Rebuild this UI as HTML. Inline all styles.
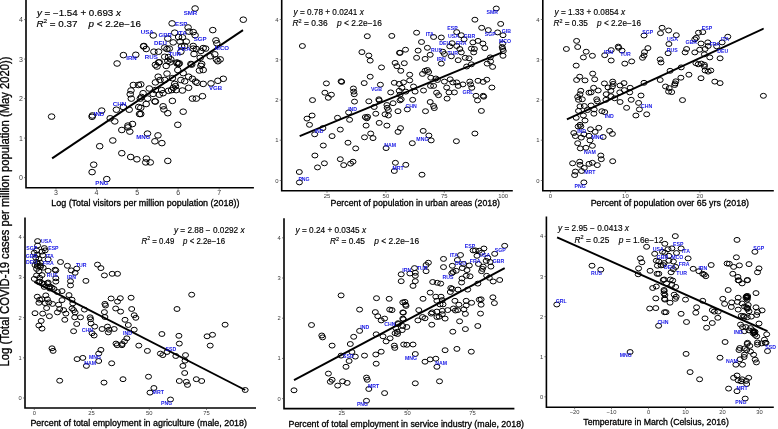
<!DOCTYPE html><html><head><meta charset="utf-8"><style>html,body{margin:0;padding:0;background:#fff;width:778px;height:429px;overflow:hidden}svg{display:block;will-change:transform}text{font-family:"Liberation Sans",sans-serif}</style></head><body>
<svg width="778" height="429" viewBox="0 0 778 429">
<rect width="778" height="429" fill="#fff"/>
<ellipse cx="117.1" cy="63.5" rx="3.3" ry="2.8" fill="none" stroke="#000" stroke-width="1.0"/>
<ellipse cx="123.4" cy="55.1" rx="3.3" ry="2.8" fill="none" stroke="#000" stroke-width="1.0"/>
<ellipse cx="135.8" cy="54.8" rx="3.3" ry="2.8" fill="none" stroke="#000" stroke-width="1.0"/>
<ellipse cx="143.5" cy="46.4" rx="3.3" ry="2.8" fill="none" stroke="#000" stroke-width="1.0"/>
<ellipse cx="153.3" cy="35.4" rx="3.3" ry="2.8" fill="none" stroke="#000" stroke-width="1.0"/>
<ellipse cx="195.1" cy="8.5" rx="3.3" ry="2.8" fill="none" stroke="#000" stroke-width="1.0"/>
<ellipse cx="243.3" cy="19.7" rx="3.3" ry="2.8" fill="none" stroke="#000" stroke-width="1.0"/>
<ellipse cx="172.1" cy="23.4" rx="3.3" ry="2.8" fill="none" stroke="#000" stroke-width="1.0"/>
<ellipse cx="212.8" cy="30.1" rx="3.3" ry="2.8" fill="none" stroke="#000" stroke-width="1.0"/>
<ellipse cx="188.1" cy="27.5" rx="3.3" ry="2.8" fill="none" stroke="#000" stroke-width="1.0"/>
<ellipse cx="189.0" cy="31.6" rx="3.3" ry="2.8" fill="none" stroke="#000" stroke-width="1.0"/>
<ellipse cx="193.2" cy="32.1" rx="3.3" ry="2.8" fill="none" stroke="#000" stroke-width="1.0"/>
<ellipse cx="195.1" cy="35.2" rx="3.3" ry="2.8" fill="none" stroke="#000" stroke-width="1.0"/>
<ellipse cx="174.7" cy="32.7" rx="3.3" ry="2.8" fill="none" stroke="#000" stroke-width="1.0"/>
<ellipse cx="178.6" cy="37.0" rx="3.3" ry="2.8" fill="none" stroke="#000" stroke-width="1.0"/>
<ellipse cx="182.4" cy="37.3" rx="3.3" ry="2.8" fill="none" stroke="#000" stroke-width="1.0"/>
<ellipse cx="167.8" cy="38.6" rx="3.3" ry="2.8" fill="none" stroke="#000" stroke-width="1.0"/>
<ellipse cx="173.2" cy="42.4" rx="3.3" ry="2.8" fill="none" stroke="#000" stroke-width="1.0"/>
<ellipse cx="180.1" cy="41.6" rx="3.3" ry="2.8" fill="none" stroke="#000" stroke-width="1.0"/>
<ellipse cx="186.3" cy="41.6" rx="3.3" ry="2.8" fill="none" stroke="#000" stroke-width="1.0"/>
<ellipse cx="215.9" cy="40.4" rx="3.3" ry="2.8" fill="none" stroke="#000" stroke-width="1.0"/>
<ellipse cx="216.8" cy="43.2" rx="3.3" ry="2.8" fill="none" stroke="#000" stroke-width="1.0"/>
<ellipse cx="143.9" cy="46.0" rx="3.3" ry="2.8" fill="none" stroke="#000" stroke-width="1.0"/>
<ellipse cx="146.2" cy="49.0" rx="3.3" ry="2.8" fill="none" stroke="#000" stroke-width="1.0"/>
<ellipse cx="153.9" cy="51.7" rx="3.3" ry="2.8" fill="none" stroke="#000" stroke-width="1.0"/>
<ellipse cx="158.5" cy="51.7" rx="3.3" ry="2.8" fill="none" stroke="#000" stroke-width="1.0"/>
<ellipse cx="164.7" cy="47.5" rx="3.3" ry="2.8" fill="none" stroke="#000" stroke-width="1.0"/>
<ellipse cx="167.0" cy="49.0" rx="3.3" ry="2.8" fill="none" stroke="#000" stroke-width="1.0"/>
<ellipse cx="169.3" cy="48.6" rx="3.3" ry="2.8" fill="none" stroke="#000" stroke-width="1.0"/>
<ellipse cx="181.6" cy="46.3" rx="3.3" ry="2.8" fill="none" stroke="#000" stroke-width="1.0"/>
<ellipse cx="184.7" cy="46.0" rx="3.3" ry="2.8" fill="none" stroke="#000" stroke-width="1.0"/>
<ellipse cx="193.2" cy="46.0" rx="3.3" ry="2.8" fill="none" stroke="#000" stroke-width="1.0"/>
<ellipse cx="193.2" cy="48.6" rx="3.3" ry="2.8" fill="none" stroke="#000" stroke-width="1.0"/>
<ellipse cx="196.3" cy="49.0" rx="3.3" ry="2.8" fill="none" stroke="#000" stroke-width="1.0"/>
<ellipse cx="203.2" cy="48.1" rx="3.3" ry="2.8" fill="none" stroke="#000" stroke-width="1.0"/>
<ellipse cx="205.6" cy="48.6" rx="3.3" ry="2.8" fill="none" stroke="#000" stroke-width="1.0"/>
<ellipse cx="180.9" cy="51.7" rx="3.3" ry="2.8" fill="none" stroke="#000" stroke-width="1.0"/>
<ellipse cx="194.0" cy="54.0" rx="3.3" ry="2.8" fill="none" stroke="#000" stroke-width="1.0"/>
<ellipse cx="200.9" cy="50.9" rx="3.3" ry="2.8" fill="none" stroke="#000" stroke-width="1.0"/>
<ellipse cx="164.7" cy="56.8" rx="3.3" ry="2.8" fill="none" stroke="#000" stroke-width="1.0"/>
<ellipse cx="168.5" cy="57.1" rx="3.3" ry="2.8" fill="none" stroke="#000" stroke-width="1.0"/>
<ellipse cx="167.8" cy="60.9" rx="3.3" ry="2.8" fill="none" stroke="#000" stroke-width="1.0"/>
<ellipse cx="170.8" cy="59.4" rx="3.3" ry="2.8" fill="none" stroke="#000" stroke-width="1.0"/>
<ellipse cx="158.5" cy="62.5" rx="3.3" ry="2.8" fill="none" stroke="#000" stroke-width="1.0"/>
<ellipse cx="155.4" cy="64.8" rx="3.3" ry="2.8" fill="none" stroke="#000" stroke-width="1.0"/>
<ellipse cx="177.0" cy="62.5" rx="3.3" ry="2.8" fill="none" stroke="#000" stroke-width="1.0"/>
<ellipse cx="178.6" cy="64.0" rx="3.3" ry="2.8" fill="none" stroke="#000" stroke-width="1.0"/>
<ellipse cx="190.9" cy="64.0" rx="3.3" ry="2.8" fill="none" stroke="#000" stroke-width="1.0"/>
<ellipse cx="201.7" cy="64.0" rx="3.3" ry="2.8" fill="none" stroke="#000" stroke-width="1.0"/>
<ellipse cx="210.2" cy="56.3" rx="3.3" ry="2.8" fill="none" stroke="#000" stroke-width="1.0"/>
<ellipse cx="214.8" cy="54.3" rx="3.3" ry="2.8" fill="none" stroke="#000" stroke-width="1.0"/>
<ellipse cx="216.4" cy="59.4" rx="3.3" ry="2.8" fill="none" stroke="#000" stroke-width="1.0"/>
<ellipse cx="220.2" cy="59.4" rx="3.3" ry="2.8" fill="none" stroke="#000" stroke-width="1.0"/>
<ellipse cx="200.2" cy="57.8" rx="3.3" ry="2.8" fill="none" stroke="#000" stroke-width="1.0"/>
<ellipse cx="157.0" cy="66.5" rx="3.3" ry="2.8" fill="none" stroke="#000" stroke-width="1.0"/>
<ellipse cx="159.3" cy="62.3" rx="3.3" ry="2.8" fill="none" stroke="#000" stroke-width="1.0"/>
<ellipse cx="166.2" cy="65.9" rx="3.3" ry="2.8" fill="none" stroke="#000" stroke-width="1.0"/>
<ellipse cx="170.1" cy="62.3" rx="3.3" ry="2.8" fill="none" stroke="#000" stroke-width="1.0"/>
<ellipse cx="177.0" cy="63.4" rx="3.3" ry="2.8" fill="none" stroke="#000" stroke-width="1.0"/>
<ellipse cx="179.3" cy="63.4" rx="3.3" ry="2.8" fill="none" stroke="#000" stroke-width="1.0"/>
<ellipse cx="177.8" cy="70.0" rx="3.3" ry="2.8" fill="none" stroke="#000" stroke-width="1.0"/>
<ellipse cx="191.7" cy="64.6" rx="3.3" ry="2.8" fill="none" stroke="#000" stroke-width="1.0"/>
<ellipse cx="200.9" cy="65.9" rx="3.3" ry="2.8" fill="none" stroke="#000" stroke-width="1.0"/>
<ellipse cx="199.4" cy="70.5" rx="3.3" ry="2.8" fill="none" stroke="#000" stroke-width="1.0"/>
<ellipse cx="203.2" cy="70.0" rx="3.3" ry="2.8" fill="none" stroke="#000" stroke-width="1.0"/>
<ellipse cx="217.9" cy="61.2" rx="3.3" ry="2.8" fill="none" stroke="#000" stroke-width="1.0"/>
<ellipse cx="167.0" cy="73.6" rx="3.3" ry="2.8" fill="none" stroke="#000" stroke-width="1.0"/>
<ellipse cx="158.2" cy="76.7" rx="3.3" ry="2.8" fill="none" stroke="#000" stroke-width="1.0"/>
<ellipse cx="155.4" cy="82.4" rx="3.3" ry="2.8" fill="none" stroke="#000" stroke-width="1.0"/>
<ellipse cx="160.0" cy="80.0" rx="3.3" ry="2.8" fill="none" stroke="#000" stroke-width="1.0"/>
<ellipse cx="164.7" cy="80.0" rx="3.3" ry="2.8" fill="none" stroke="#000" stroke-width="1.0"/>
<ellipse cx="172.4" cy="78.2" rx="3.3" ry="2.8" fill="none" stroke="#000" stroke-width="1.0"/>
<ellipse cx="183.2" cy="73.1" rx="3.3" ry="2.8" fill="none" stroke="#000" stroke-width="1.0"/>
<ellipse cx="188.6" cy="76.7" rx="3.3" ry="2.8" fill="none" stroke="#000" stroke-width="1.0"/>
<ellipse cx="180.9" cy="80.0" rx="3.3" ry="2.8" fill="none" stroke="#000" stroke-width="1.0"/>
<ellipse cx="184.7" cy="81.3" rx="3.3" ry="2.8" fill="none" stroke="#000" stroke-width="1.0"/>
<ellipse cx="192.4" cy="78.8" rx="3.3" ry="2.8" fill="none" stroke="#000" stroke-width="1.0"/>
<ellipse cx="195.5" cy="81.6" rx="3.3" ry="2.8" fill="none" stroke="#000" stroke-width="1.0"/>
<ellipse cx="197.1" cy="82.8" rx="3.3" ry="2.8" fill="none" stroke="#000" stroke-width="1.0"/>
<ellipse cx="203.2" cy="83.9" rx="3.3" ry="2.8" fill="none" stroke="#000" stroke-width="1.0"/>
<ellipse cx="211.0" cy="83.4" rx="3.3" ry="2.8" fill="none" stroke="#000" stroke-width="1.0"/>
<ellipse cx="217.9" cy="80.8" rx="3.3" ry="2.8" fill="none" stroke="#000" stroke-width="1.0"/>
<ellipse cx="223.3" cy="78.8" rx="3.3" ry="2.8" fill="none" stroke="#000" stroke-width="1.0"/>
<ellipse cx="174.7" cy="83.9" rx="3.3" ry="2.8" fill="none" stroke="#000" stroke-width="1.0"/>
<ellipse cx="175.5" cy="86.2" rx="3.3" ry="2.8" fill="none" stroke="#000" stroke-width="1.0"/>
<ellipse cx="173.2" cy="87.8" rx="3.3" ry="2.8" fill="none" stroke="#000" stroke-width="1.0"/>
<ellipse cx="140.8" cy="84.4" rx="3.3" ry="2.8" fill="none" stroke="#000" stroke-width="1.0"/>
<ellipse cx="149.3" cy="88.5" rx="3.3" ry="2.8" fill="none" stroke="#000" stroke-width="1.0"/>
<ellipse cx="155.4" cy="90.1" rx="3.3" ry="2.8" fill="none" stroke="#000" stroke-width="1.0"/>
<ellipse cx="161.6" cy="90.1" rx="3.3" ry="2.8" fill="none" stroke="#000" stroke-width="1.0"/>
<ellipse cx="168.5" cy="90.8" rx="3.3" ry="2.8" fill="none" stroke="#000" stroke-width="1.0"/>
<ellipse cx="171.6" cy="90.1" rx="3.3" ry="2.8" fill="none" stroke="#000" stroke-width="1.0"/>
<ellipse cx="176.2" cy="90.1" rx="3.3" ry="2.8" fill="none" stroke="#000" stroke-width="1.0"/>
<ellipse cx="182.4" cy="90.5" rx="3.3" ry="2.8" fill="none" stroke="#000" stroke-width="1.0"/>
<ellipse cx="188.6" cy="87.8" rx="3.3" ry="2.8" fill="none" stroke="#000" stroke-width="1.0"/>
<ellipse cx="143.1" cy="93.2" rx="3.3" ry="2.8" fill="none" stroke="#000" stroke-width="1.0"/>
<ellipse cx="153.1" cy="93.9" rx="3.3" ry="2.8" fill="none" stroke="#000" stroke-width="1.0"/>
<ellipse cx="159.3" cy="94.7" rx="3.3" ry="2.8" fill="none" stroke="#000" stroke-width="1.0"/>
<ellipse cx="163.1" cy="93.2" rx="3.3" ry="2.8" fill="none" stroke="#000" stroke-width="1.0"/>
<ellipse cx="141.5" cy="97.0" rx="3.3" ry="2.8" fill="none" stroke="#000" stroke-width="1.0"/>
<ellipse cx="147.7" cy="98.6" rx="3.3" ry="2.8" fill="none" stroke="#000" stroke-width="1.0"/>
<ellipse cx="146.2" cy="104.0" rx="3.3" ry="2.8" fill="none" stroke="#000" stroke-width="1.0"/>
<ellipse cx="155.4" cy="101.6" rx="3.3" ry="2.8" fill="none" stroke="#000" stroke-width="1.0"/>
<ellipse cx="172.4" cy="100.9" rx="3.3" ry="2.8" fill="none" stroke="#000" stroke-width="1.0"/>
<ellipse cx="192.4" cy="98.6" rx="3.3" ry="2.8" fill="none" stroke="#000" stroke-width="1.0"/>
<ellipse cx="196.3" cy="98.6" rx="3.3" ry="2.8" fill="none" stroke="#000" stroke-width="1.0"/>
<ellipse cx="202.5" cy="96.2" rx="3.3" ry="2.8" fill="none" stroke="#000" stroke-width="1.0"/>
<ellipse cx="140.8" cy="107.8" rx="3.3" ry="2.8" fill="none" stroke="#000" stroke-width="1.0"/>
<ellipse cx="163.1" cy="106.3" rx="3.3" ry="2.8" fill="none" stroke="#000" stroke-width="1.0"/>
<ellipse cx="163.9" cy="109.4" rx="3.3" ry="2.8" fill="none" stroke="#000" stroke-width="1.0"/>
<ellipse cx="167.8" cy="113.2" rx="3.3" ry="2.8" fill="none" stroke="#000" stroke-width="1.0"/>
<ellipse cx="183.2" cy="111.7" rx="3.3" ry="2.8" fill="none" stroke="#000" stroke-width="1.0"/>
<ellipse cx="140.8" cy="114.0" rx="3.3" ry="2.8" fill="none" stroke="#000" stroke-width="1.0"/>
<ellipse cx="177.8" cy="124.8" rx="3.3" ry="2.8" fill="none" stroke="#000" stroke-width="1.0"/>
<ellipse cx="133.3" cy="85.0" rx="3.3" ry="2.8" fill="none" stroke="#000" stroke-width="1.0"/>
<ellipse cx="138.4" cy="85.0" rx="3.3" ry="2.8" fill="none" stroke="#000" stroke-width="1.0"/>
<ellipse cx="131.0" cy="90.5" rx="3.3" ry="2.8" fill="none" stroke="#000" stroke-width="1.0"/>
<ellipse cx="130.2" cy="94.2" rx="3.3" ry="2.8" fill="none" stroke="#000" stroke-width="1.0"/>
<ellipse cx="131.3" cy="98.6" rx="3.3" ry="2.8" fill="none" stroke="#000" stroke-width="1.0"/>
<ellipse cx="140.3" cy="98.6" rx="3.3" ry="2.8" fill="none" stroke="#000" stroke-width="1.0"/>
<ellipse cx="154.9" cy="101.3" rx="3.3" ry="2.8" fill="none" stroke="#000" stroke-width="1.0"/>
<ellipse cx="138.7" cy="107.0" rx="3.3" ry="2.8" fill="none" stroke="#000" stroke-width="1.0"/>
<ellipse cx="139.5" cy="114.0" rx="3.3" ry="2.8" fill="none" stroke="#000" stroke-width="1.0"/>
<ellipse cx="129.2" cy="109.7" rx="3.3" ry="2.8" fill="none" stroke="#000" stroke-width="1.0"/>
<ellipse cx="116.4" cy="109.7" rx="3.3" ry="2.8" fill="none" stroke="#000" stroke-width="1.0"/>
<ellipse cx="123.3" cy="107.0" rx="3.3" ry="2.8" fill="none" stroke="#000" stroke-width="1.0"/>
<ellipse cx="101.7" cy="110.6" rx="3.3" ry="2.8" fill="none" stroke="#000" stroke-width="1.0"/>
<ellipse cx="92.4" cy="115.5" rx="3.3" ry="2.8" fill="none" stroke="#000" stroke-width="1.0"/>
<ellipse cx="92.1" cy="116.8" rx="3.3" ry="2.8" fill="none" stroke="#000" stroke-width="1.0"/>
<ellipse cx="51.6" cy="116.6" rx="3.3" ry="2.8" fill="none" stroke="#000" stroke-width="1.0"/>
<ellipse cx="110.2" cy="118.3" rx="3.3" ry="2.8" fill="none" stroke="#000" stroke-width="1.0"/>
<ellipse cx="114.8" cy="121.4" rx="3.3" ry="2.8" fill="none" stroke="#000" stroke-width="1.0"/>
<ellipse cx="132.5" cy="124.0" rx="3.3" ry="2.8" fill="none" stroke="#000" stroke-width="1.0"/>
<ellipse cx="127.9" cy="125.6" rx="3.3" ry="2.8" fill="none" stroke="#000" stroke-width="1.0"/>
<ellipse cx="121.8" cy="130.0" rx="3.3" ry="2.8" fill="none" stroke="#000" stroke-width="1.0"/>
<ellipse cx="127.9" cy="127.4" rx="3.3" ry="2.8" fill="none" stroke="#000" stroke-width="1.0"/>
<ellipse cx="129.8" cy="131.6" rx="3.3" ry="2.8" fill="none" stroke="#000" stroke-width="1.0"/>
<ellipse cx="147.5" cy="133.6" rx="3.3" ry="2.8" fill="none" stroke="#000" stroke-width="1.0"/>
<ellipse cx="158.0" cy="135.4" rx="3.3" ry="2.8" fill="none" stroke="#000" stroke-width="1.0"/>
<ellipse cx="154.9" cy="141.3" rx="3.3" ry="2.8" fill="none" stroke="#000" stroke-width="1.0"/>
<ellipse cx="161.9" cy="143.1" rx="3.3" ry="2.8" fill="none" stroke="#000" stroke-width="1.0"/>
<ellipse cx="112.8" cy="140.5" rx="3.3" ry="2.8" fill="none" stroke="#000" stroke-width="1.0"/>
<ellipse cx="99.7" cy="146.2" rx="3.3" ry="2.8" fill="none" stroke="#000" stroke-width="1.0"/>
<ellipse cx="121.8" cy="153.2" rx="3.3" ry="2.8" fill="none" stroke="#000" stroke-width="1.0"/>
<ellipse cx="130.7" cy="157.0" rx="3.3" ry="2.8" fill="none" stroke="#000" stroke-width="1.0"/>
<ellipse cx="136.9" cy="159.3" rx="3.3" ry="2.8" fill="none" stroke="#000" stroke-width="1.0"/>
<ellipse cx="146.4" cy="158.6" rx="3.3" ry="2.8" fill="none" stroke="#000" stroke-width="1.0"/>
<ellipse cx="145.7" cy="162.4" rx="3.3" ry="2.8" fill="none" stroke="#000" stroke-width="1.0"/>
<ellipse cx="150.3" cy="162.4" rx="3.3" ry="2.8" fill="none" stroke="#000" stroke-width="1.0"/>
<ellipse cx="93.7" cy="164.7" rx="3.3" ry="2.8" fill="none" stroke="#000" stroke-width="1.0"/>
<ellipse cx="92.1" cy="172.1" rx="3.3" ry="2.8" fill="none" stroke="#000" stroke-width="1.0"/>
<ellipse cx="106.8" cy="179.1" rx="3.3" ry="2.8" fill="none" stroke="#000" stroke-width="1.0"/>
<ellipse cx="167.8" cy="160.9" rx="3.3" ry="2.8" fill="none" stroke="#000" stroke-width="1.0"/>
<path d="M52.1 158.4L243 30.1" stroke="#000" stroke-width="1.9" stroke-linecap="butt"/>
<text x="36.9" y="16.2" font-size="8.4" fill="#000" stroke="#000" stroke-width="0.15" textLength="84.0" lengthAdjust="spacingAndGlyphs"><tspan font-style="italic">y</tspan> = −1.54 + 0.693 <tspan font-style="italic">x</tspan></text>
<text x="36.4" y="26.7" font-size="8.4" fill="#000" stroke="#000" stroke-width="0.15" textLength="104.6" lengthAdjust="spacingAndGlyphs" xml:space="preserve"><tspan font-style="italic">R</tspan><tspan font-size="5.5" dy="-3.6">2</tspan><tspan dy="3.6"> = 0.37    </tspan><tspan font-style="italic">p</tspan> < 2.2e−16</text>
<path d="M26 0V187.7H253.9" fill="none" stroke="#000" stroke-width="1.6"/>
<path d="M24 177.6H26" stroke="#333" stroke-width="0.6"/>
<text x="22.8" y="180.11" font-size="7.0" fill="#3a3a3a" text-anchor="end">0</text>
<path d="M24 138.1H26" stroke="#333" stroke-width="0.6"/>
<text x="22.8" y="140.61" font-size="7.0" fill="#3a3a3a" text-anchor="end">1</text>
<path d="M24 98.6H26" stroke="#333" stroke-width="0.6"/>
<text x="22.8" y="101.11" font-size="7.0" fill="#3a3a3a" text-anchor="end">2</text>
<path d="M24 59.1H26" stroke="#333" stroke-width="0.6"/>
<text x="22.8" y="61.61" font-size="7.0" fill="#3a3a3a" text-anchor="end">3</text>
<path d="M24 19.6H26" stroke="#333" stroke-width="0.6"/>
<text x="22.8" y="22.11" font-size="7.0" fill="#3a3a3a" text-anchor="end">4</text>
<path d="M56 187.7V189.7" stroke="#333" stroke-width="0.6"/>
<text x="56" y="195.34" font-size="7.0" fill="#3a3a3a" text-anchor="middle">3</text>
<path d="M96.5 187.7V189.7" stroke="#333" stroke-width="0.6"/>
<text x="96.5" y="195.34" font-size="7.0" fill="#3a3a3a" text-anchor="middle">4</text>
<path d="M137.3 187.7V189.7" stroke="#333" stroke-width="0.6"/>
<text x="137.3" y="195.34" font-size="7.0" fill="#3a3a3a" text-anchor="middle">5</text>
<path d="M178.1 187.7V189.7" stroke="#333" stroke-width="0.6"/>
<text x="178.1" y="195.34" font-size="7.0" fill="#3a3a3a" text-anchor="middle">6</text>
<path d="M219.2 187.7V189.7" stroke="#333" stroke-width="0.6"/>
<text x="219.2" y="195.34" font-size="7.0" fill="#3a3a3a" text-anchor="middle">7</text>
<text x="51.2" y="205.5" font-size="8.8" fill="#000" stroke="#000" stroke-width="0.3" textLength="188.3" lengthAdjust="spacingAndGlyphs">Log (Total visitors per million population (2018))</text>
<text x="190.5" y="14.5" font-size="5.2" font-weight="bold" fill="#1414e6" text-anchor="middle" textLength="13.6" lengthAdjust="spacingAndGlyphs">SMR</text>
<text x="181.2" y="25.8" font-size="5.2" font-weight="bold" fill="#1414e6" text-anchor="middle" textLength="12.3" lengthAdjust="spacingAndGlyphs">ESP</text>
<text x="147.2" y="33.5" font-size="5.2" font-weight="bold" fill="#1414e6" text-anchor="middle" textLength="13.0" lengthAdjust="spacingAndGlyphs">USA</text>
<text x="165.2" y="37.1" font-size="5.2" font-weight="bold" fill="#1414e6" text-anchor="middle" textLength="13.6" lengthAdjust="spacingAndGlyphs">GBR</text>
<text x="182.0" y="35.1" font-size="5.2" font-weight="bold" fill="#1414e6" text-anchor="middle" textLength="9.9" lengthAdjust="spacingAndGlyphs">ITA</text>
<text x="200.2" y="41.2" font-size="5.2" font-weight="bold" fill="#1414e6" text-anchor="middle" textLength="13.0" lengthAdjust="spacingAndGlyphs">SGP</text>
<text x="160.5" y="44.8" font-size="5.2" font-weight="bold" fill="#1414e6" text-anchor="middle" textLength="13.0" lengthAdjust="spacingAndGlyphs">DEU</text>
<text x="184.4" y="50.5" font-size="5.2" font-weight="bold" fill="#1414e6" text-anchor="middle" textLength="12.6" lengthAdjust="spacingAndGlyphs">FRA</text>
<text x="222.0" y="49.7" font-size="5.2" font-weight="bold" fill="#1414e6" text-anchor="middle" textLength="14.3" lengthAdjust="spacingAndGlyphs">MCO</text>
<text x="151.3" y="58.7" font-size="5.2" font-weight="bold" fill="#1414e6" text-anchor="middle" textLength="13.0" lengthAdjust="spacingAndGlyphs">RUS</text>
<text x="174.7" y="55.9" font-size="5.2" font-weight="bold" fill="#1414e6" text-anchor="middle" textLength="12.6" lengthAdjust="spacingAndGlyphs">TUR</text>
<text x="131.5" y="60.4" font-size="5.2" font-weight="bold" fill="#1414e6" text-anchor="middle" textLength="10.6" lengthAdjust="spacingAndGlyphs">IRN</text>
<text x="215.6" y="90.1" font-size="5.2" font-weight="bold" fill="#1414e6" text-anchor="middle" textLength="13.3" lengthAdjust="spacingAndGlyphs">VGB</text>
<text x="119.5" y="106.2" font-size="5.2" font-weight="bold" fill="#1414e6" text-anchor="middle" textLength="13.3" lengthAdjust="spacingAndGlyphs">CHN</text>
<text x="99.0" y="115.9" font-size="5.2" font-weight="bold" fill="#1414e6" text-anchor="middle" textLength="10.6" lengthAdjust="spacingAndGlyphs">IND</text>
<text x="143.4" y="139.3" font-size="5.2" font-weight="bold" fill="#1414e6" text-anchor="middle" textLength="14.3" lengthAdjust="spacingAndGlyphs">MNG</text>
<text x="102.0" y="184.9" font-size="5.2" font-weight="bold" fill="#1414e6" text-anchor="middle" textLength="13.3" lengthAdjust="spacingAndGlyphs">PNG</text>
<ellipse cx="302.4" cy="46.0" rx="3.0" ry="2.45" fill="none" stroke="#000" stroke-width="1.0"/>
<ellipse cx="367.3" cy="36.2" rx="3.0" ry="2.45" fill="none" stroke="#000" stroke-width="1.0"/>
<ellipse cx="391.8" cy="35.9" rx="3.0" ry="2.45" fill="none" stroke="#000" stroke-width="1.0"/>
<ellipse cx="361.9" cy="52.1" rx="3.0" ry="2.45" fill="none" stroke="#000" stroke-width="1.0"/>
<ellipse cx="368.8" cy="55.5" rx="3.0" ry="2.45" fill="none" stroke="#000" stroke-width="1.0"/>
<ellipse cx="370.2" cy="60.6" rx="3.0" ry="2.45" fill="none" stroke="#000" stroke-width="1.0"/>
<ellipse cx="399.5" cy="52.8" rx="3.0" ry="2.45" fill="none" stroke="#000" stroke-width="1.0"/>
<ellipse cx="395.1" cy="62.9" rx="3.0" ry="2.45" fill="none" stroke="#000" stroke-width="1.0"/>
<ellipse cx="496.3" cy="8.5" rx="3.0" ry="2.45" fill="none" stroke="#000" stroke-width="1.0"/>
<ellipse cx="474.9" cy="19.7" rx="3.0" ry="2.45" fill="none" stroke="#000" stroke-width="1.0"/>
<ellipse cx="500.7" cy="23.9" rx="3.0" ry="2.45" fill="none" stroke="#000" stroke-width="1.0"/>
<ellipse cx="481.7" cy="27.8" rx="3.0" ry="2.45" fill="none" stroke="#000" stroke-width="1.0"/>
<ellipse cx="488.3" cy="30.1" rx="3.0" ry="2.45" fill="none" stroke="#000" stroke-width="1.0"/>
<ellipse cx="497.6" cy="32.4" rx="3.0" ry="2.45" fill="none" stroke="#000" stroke-width="1.0"/>
<ellipse cx="503.0" cy="35.2" rx="3.0" ry="2.45" fill="none" stroke="#000" stroke-width="1.0"/>
<ellipse cx="502.7" cy="43.5" rx="3.0" ry="2.45" fill="none" stroke="#000" stroke-width="1.0"/>
<ellipse cx="502.2" cy="47.0" rx="3.0" ry="2.45" fill="none" stroke="#000" stroke-width="1.0"/>
<ellipse cx="502.7" cy="49.0" rx="3.0" ry="2.45" fill="none" stroke="#000" stroke-width="1.0"/>
<ellipse cx="503.3" cy="50.9" rx="3.0" ry="2.45" fill="none" stroke="#000" stroke-width="1.0"/>
<ellipse cx="503.0" cy="55.8" rx="3.0" ry="2.45" fill="none" stroke="#000" stroke-width="1.0"/>
<ellipse cx="416.6" cy="32.7" rx="3.0" ry="2.45" fill="none" stroke="#000" stroke-width="1.0"/>
<ellipse cx="433.6" cy="37.0" rx="3.0" ry="2.45" fill="none" stroke="#000" stroke-width="1.0"/>
<ellipse cx="441.3" cy="37.5" rx="3.0" ry="2.45" fill="none" stroke="#000" stroke-width="1.0"/>
<ellipse cx="456.7" cy="32.1" rx="3.0" ry="2.45" fill="none" stroke="#000" stroke-width="1.0"/>
<ellipse cx="461.3" cy="35.2" rx="3.0" ry="2.45" fill="none" stroke="#000" stroke-width="1.0"/>
<ellipse cx="464.1" cy="39.3" rx="3.0" ry="2.45" fill="none" stroke="#000" stroke-width="1.0"/>
<ellipse cx="421.5" cy="42.0" rx="3.0" ry="2.45" fill="none" stroke="#000" stroke-width="1.0"/>
<ellipse cx="478.0" cy="40.9" rx="3.0" ry="2.45" fill="none" stroke="#000" stroke-width="1.0"/>
<ellipse cx="472.9" cy="42.4" rx="3.0" ry="2.45" fill="none" stroke="#000" stroke-width="1.0"/>
<ellipse cx="482.9" cy="43.5" rx="3.0" ry="2.45" fill="none" stroke="#000" stroke-width="1.0"/>
<ellipse cx="484.8" cy="48.1" rx="3.0" ry="2.45" fill="none" stroke="#000" stroke-width="1.0"/>
<ellipse cx="471.4" cy="48.6" rx="3.0" ry="2.45" fill="none" stroke="#000" stroke-width="1.0"/>
<ellipse cx="474.4" cy="49.0" rx="3.0" ry="2.45" fill="none" stroke="#000" stroke-width="1.0"/>
<ellipse cx="473.7" cy="52.4" rx="3.0" ry="2.45" fill="none" stroke="#000" stroke-width="1.0"/>
<ellipse cx="452.1" cy="43.2" rx="3.0" ry="2.45" fill="none" stroke="#000" stroke-width="1.0"/>
<ellipse cx="449.8" cy="46.3" rx="3.0" ry="2.45" fill="none" stroke="#000" stroke-width="1.0"/>
<ellipse cx="456.7" cy="46.0" rx="3.0" ry="2.45" fill="none" stroke="#000" stroke-width="1.0"/>
<ellipse cx="459.8" cy="49.0" rx="3.0" ry="2.45" fill="none" stroke="#000" stroke-width="1.0"/>
<ellipse cx="461.3" cy="52.4" rx="3.0" ry="2.45" fill="none" stroke="#000" stroke-width="1.0"/>
<ellipse cx="451.3" cy="56.3" rx="3.0" ry="2.45" fill="none" stroke="#000" stroke-width="1.0"/>
<ellipse cx="442.8" cy="51.7" rx="3.0" ry="2.45" fill="none" stroke="#000" stroke-width="1.0"/>
<ellipse cx="444.4" cy="54.0" rx="3.0" ry="2.45" fill="none" stroke="#000" stroke-width="1.0"/>
<ellipse cx="427.4" cy="47.8" rx="3.0" ry="2.45" fill="none" stroke="#000" stroke-width="1.0"/>
<ellipse cx="418.1" cy="50.6" rx="3.0" ry="2.45" fill="none" stroke="#000" stroke-width="1.0"/>
<ellipse cx="430.2" cy="54.8" rx="3.0" ry="2.45" fill="none" stroke="#000" stroke-width="1.0"/>
<ellipse cx="405.5" cy="49.7" rx="3.0" ry="2.45" fill="none" stroke="#000" stroke-width="1.0"/>
<ellipse cx="400.1" cy="52.8" rx="3.0" ry="2.45" fill="none" stroke="#000" stroke-width="1.0"/>
<ellipse cx="416.6" cy="57.8" rx="3.0" ry="2.45" fill="none" stroke="#000" stroke-width="1.0"/>
<ellipse cx="425.1" cy="58.9" rx="3.0" ry="2.45" fill="none" stroke="#000" stroke-width="1.0"/>
<ellipse cx="458.2" cy="60.2" rx="3.0" ry="2.45" fill="none" stroke="#000" stroke-width="1.0"/>
<ellipse cx="465.2" cy="57.8" rx="3.0" ry="2.45" fill="none" stroke="#000" stroke-width="1.0"/>
<ellipse cx="469.0" cy="58.3" rx="3.0" ry="2.45" fill="none" stroke="#000" stroke-width="1.0"/>
<ellipse cx="441.3" cy="63.6" rx="3.0" ry="2.45" fill="none" stroke="#000" stroke-width="1.0"/>
<ellipse cx="404.3" cy="63.2" rx="3.0" ry="2.45" fill="none" stroke="#000" stroke-width="1.0"/>
<ellipse cx="490.3" cy="57.4" rx="3.0" ry="2.45" fill="none" stroke="#000" stroke-width="1.0"/>
<ellipse cx="490.6" cy="61.4" rx="3.0" ry="2.45" fill="none" stroke="#000" stroke-width="1.0"/>
<ellipse cx="487.2" cy="63.6" rx="3.0" ry="2.45" fill="none" stroke="#000" stroke-width="1.0"/>
<ellipse cx="396.9" cy="66.2" rx="3.0" ry="2.45" fill="none" stroke="#000" stroke-width="1.0"/>
<ellipse cx="400.8" cy="70.8" rx="3.0" ry="2.45" fill="none" stroke="#000" stroke-width="1.0"/>
<ellipse cx="381.5" cy="67.4" rx="3.0" ry="2.45" fill="none" stroke="#000" stroke-width="1.0"/>
<ellipse cx="370.2" cy="76.7" rx="3.0" ry="2.45" fill="none" stroke="#000" stroke-width="1.0"/>
<ellipse cx="326.4" cy="83.4" rx="3.0" ry="2.45" fill="none" stroke="#000" stroke-width="1.0"/>
<ellipse cx="341.1" cy="81.3" rx="3.0" ry="2.45" fill="none" stroke="#000" stroke-width="1.0"/>
<ellipse cx="341.7" cy="81.9" rx="3.0" ry="2.45" fill="none" stroke="#000" stroke-width="1.0"/>
<ellipse cx="364.2" cy="83.1" rx="3.0" ry="2.45" fill="none" stroke="#000" stroke-width="1.0"/>
<ellipse cx="380.4" cy="84.7" rx="3.0" ry="2.45" fill="none" stroke="#000" stroke-width="1.0"/>
<ellipse cx="394.3" cy="82.8" rx="3.0" ry="2.45" fill="none" stroke="#000" stroke-width="1.0"/>
<ellipse cx="399.2" cy="83.9" rx="3.0" ry="2.45" fill="none" stroke="#000" stroke-width="1.0"/>
<ellipse cx="353.4" cy="88.5" rx="3.0" ry="2.45" fill="none" stroke="#000" stroke-width="1.0"/>
<ellipse cx="353.7" cy="91.6" rx="3.0" ry="2.45" fill="none" stroke="#000" stroke-width="1.0"/>
<ellipse cx="354.2" cy="94.2" rx="3.0" ry="2.45" fill="none" stroke="#000" stroke-width="1.0"/>
<ellipse cx="324.9" cy="92.7" rx="3.0" ry="2.45" fill="none" stroke="#000" stroke-width="1.0"/>
<ellipse cx="331.4" cy="94.7" rx="3.0" ry="2.45" fill="none" stroke="#000" stroke-width="1.0"/>
<ellipse cx="328.3" cy="97.8" rx="3.0" ry="2.45" fill="none" stroke="#000" stroke-width="1.0"/>
<ellipse cx="312.5" cy="100.1" rx="3.0" ry="2.45" fill="none" stroke="#000" stroke-width="1.0"/>
<ellipse cx="354.5" cy="101.6" rx="3.0" ry="2.45" fill="none" stroke="#000" stroke-width="1.0"/>
<ellipse cx="368.8" cy="101.3" rx="3.0" ry="2.45" fill="none" stroke="#000" stroke-width="1.0"/>
<ellipse cx="378.9" cy="99.3" rx="3.0" ry="2.45" fill="none" stroke="#000" stroke-width="1.0"/>
<ellipse cx="379.2" cy="100.4" rx="3.0" ry="2.45" fill="none" stroke="#000" stroke-width="1.0"/>
<ellipse cx="390.7" cy="92.4" rx="3.0" ry="2.45" fill="none" stroke="#000" stroke-width="1.0"/>
<ellipse cx="399.2" cy="90.8" rx="3.0" ry="2.45" fill="none" stroke="#000" stroke-width="1.0"/>
<ellipse cx="400.0" cy="94.7" rx="3.0" ry="2.45" fill="none" stroke="#000" stroke-width="1.0"/>
<ellipse cx="400.0" cy="100.4" rx="3.0" ry="2.45" fill="none" stroke="#000" stroke-width="1.0"/>
<ellipse cx="393.1" cy="103.2" rx="3.0" ry="2.45" fill="none" stroke="#000" stroke-width="1.0"/>
<ellipse cx="386.9" cy="105.0" rx="3.0" ry="2.45" fill="none" stroke="#000" stroke-width="1.0"/>
<ellipse cx="387.2" cy="107.8" rx="3.0" ry="2.45" fill="none" stroke="#000" stroke-width="1.0"/>
<ellipse cx="388.4" cy="110.1" rx="3.0" ry="2.45" fill="none" stroke="#000" stroke-width="1.0"/>
<ellipse cx="374.2" cy="107.0" rx="3.0" ry="2.45" fill="none" stroke="#000" stroke-width="1.0"/>
<ellipse cx="375.8" cy="113.7" rx="3.0" ry="2.45" fill="none" stroke="#000" stroke-width="1.0"/>
<ellipse cx="385.0" cy="114.3" rx="3.0" ry="2.45" fill="none" stroke="#000" stroke-width="1.0"/>
<ellipse cx="388.4" cy="115.5" rx="3.0" ry="2.45" fill="none" stroke="#000" stroke-width="1.0"/>
<ellipse cx="398.0" cy="111.2" rx="3.0" ry="2.45" fill="none" stroke="#000" stroke-width="1.0"/>
<ellipse cx="348.6" cy="112.4" rx="3.0" ry="2.45" fill="none" stroke="#000" stroke-width="1.0"/>
<ellipse cx="312.1" cy="115.5" rx="3.0" ry="2.45" fill="none" stroke="#000" stroke-width="1.0"/>
<ellipse cx="307.0" cy="118.6" rx="3.0" ry="2.45" fill="none" stroke="#000" stroke-width="1.0"/>
<ellipse cx="337.5" cy="117.8" rx="3.0" ry="2.45" fill="none" stroke="#000" stroke-width="1.0"/>
<ellipse cx="349.6" cy="119.8" rx="3.0" ry="2.45" fill="none" stroke="#000" stroke-width="1.0"/>
<ellipse cx="365.3" cy="117.1" rx="3.0" ry="2.45" fill="none" stroke="#000" stroke-width="1.0"/>
<ellipse cx="366.8" cy="118.3" rx="3.0" ry="2.45" fill="none" stroke="#000" stroke-width="1.0"/>
<ellipse cx="367.6" cy="116.8" rx="3.0" ry="2.45" fill="none" stroke="#000" stroke-width="1.0"/>
<ellipse cx="379.2" cy="122.9" rx="3.0" ry="2.45" fill="none" stroke="#000" stroke-width="1.0"/>
<ellipse cx="309.5" cy="124.8" rx="3.0" ry="2.45" fill="none" stroke="#000" stroke-width="1.0"/>
<ellipse cx="366.1" cy="125.6" rx="3.0" ry="2.45" fill="none" stroke="#000" stroke-width="1.0"/>
<ellipse cx="386.9" cy="125.6" rx="3.0" ry="2.45" fill="none" stroke="#000" stroke-width="1.0"/>
<ellipse cx="466.7" cy="66.5" rx="3.0" ry="2.45" fill="none" stroke="#000" stroke-width="1.0"/>
<ellipse cx="471.4" cy="64.3" rx="3.0" ry="2.45" fill="none" stroke="#000" stroke-width="1.0"/>
<ellipse cx="492.6" cy="66.9" rx="3.0" ry="2.45" fill="none" stroke="#000" stroke-width="1.0"/>
<ellipse cx="409.7" cy="74.7" rx="3.0" ry="2.45" fill="none" stroke="#000" stroke-width="1.0"/>
<ellipse cx="422.5" cy="73.9" rx="3.0" ry="2.45" fill="none" stroke="#000" stroke-width="1.0"/>
<ellipse cx="425.1" cy="70.8" rx="3.0" ry="2.45" fill="none" stroke="#000" stroke-width="1.0"/>
<ellipse cx="427.4" cy="70.0" rx="3.0" ry="2.45" fill="none" stroke="#000" stroke-width="1.0"/>
<ellipse cx="428.6" cy="72.0" rx="3.0" ry="2.45" fill="none" stroke="#000" stroke-width="1.0"/>
<ellipse cx="430.8" cy="77.7" rx="3.0" ry="2.45" fill="none" stroke="#000" stroke-width="1.0"/>
<ellipse cx="435.9" cy="78.5" rx="3.0" ry="2.45" fill="none" stroke="#000" stroke-width="1.0"/>
<ellipse cx="437.4" cy="80.0" rx="3.0" ry="2.45" fill="none" stroke="#000" stroke-width="1.0"/>
<ellipse cx="409.7" cy="80.4" rx="3.0" ry="2.45" fill="none" stroke="#000" stroke-width="1.0"/>
<ellipse cx="403.5" cy="82.4" rx="3.0" ry="2.45" fill="none" stroke="#000" stroke-width="1.0"/>
<ellipse cx="413.5" cy="86.5" rx="3.0" ry="2.45" fill="none" stroke="#000" stroke-width="1.0"/>
<ellipse cx="401.9" cy="87.8" rx="3.0" ry="2.45" fill="none" stroke="#000" stroke-width="1.0"/>
<ellipse cx="405.8" cy="91.6" rx="3.0" ry="2.45" fill="none" stroke="#000" stroke-width="1.0"/>
<ellipse cx="415.1" cy="91.6" rx="3.0" ry="2.45" fill="none" stroke="#000" stroke-width="1.0"/>
<ellipse cx="423.5" cy="90.5" rx="3.0" ry="2.45" fill="none" stroke="#000" stroke-width="1.0"/>
<ellipse cx="401.2" cy="99.3" rx="3.0" ry="2.45" fill="none" stroke="#000" stroke-width="1.0"/>
<ellipse cx="412.7" cy="99.8" rx="3.0" ry="2.45" fill="none" stroke="#000" stroke-width="1.0"/>
<ellipse cx="430.5" cy="85.9" rx="3.0" ry="2.45" fill="none" stroke="#000" stroke-width="1.0"/>
<ellipse cx="433.6" cy="85.9" rx="3.0" ry="2.45" fill="none" stroke="#000" stroke-width="1.0"/>
<ellipse cx="444.4" cy="81.6" rx="3.0" ry="2.45" fill="none" stroke="#000" stroke-width="1.0"/>
<ellipse cx="450.2" cy="79.3" rx="3.0" ry="2.45" fill="none" stroke="#000" stroke-width="1.0"/>
<ellipse cx="452.8" cy="82.4" rx="3.0" ry="2.45" fill="none" stroke="#000" stroke-width="1.0"/>
<ellipse cx="456.7" cy="82.4" rx="3.0" ry="2.45" fill="none" stroke="#000" stroke-width="1.0"/>
<ellipse cx="458.2" cy="85.9" rx="3.0" ry="2.45" fill="none" stroke="#000" stroke-width="1.0"/>
<ellipse cx="462.9" cy="84.4" rx="3.0" ry="2.45" fill="none" stroke="#000" stroke-width="1.0"/>
<ellipse cx="446.7" cy="87.5" rx="3.0" ry="2.45" fill="none" stroke="#000" stroke-width="1.0"/>
<ellipse cx="449.0" cy="92.4" rx="3.0" ry="2.45" fill="none" stroke="#000" stroke-width="1.0"/>
<ellipse cx="454.4" cy="92.4" rx="3.0" ry="2.45" fill="none" stroke="#000" stroke-width="1.0"/>
<ellipse cx="469.8" cy="81.6" rx="3.0" ry="2.45" fill="none" stroke="#000" stroke-width="1.0"/>
<ellipse cx="470.6" cy="84.4" rx="3.0" ry="2.45" fill="none" stroke="#000" stroke-width="1.0"/>
<ellipse cx="471.8" cy="87.8" rx="3.0" ry="2.45" fill="none" stroke="#000" stroke-width="1.0"/>
<ellipse cx="478.0" cy="80.8" rx="3.0" ry="2.45" fill="none" stroke="#000" stroke-width="1.0"/>
<ellipse cx="483.2" cy="81.9" rx="3.0" ry="2.45" fill="none" stroke="#000" stroke-width="1.0"/>
<ellipse cx="486.8" cy="79.7" rx="3.0" ry="2.45" fill="none" stroke="#000" stroke-width="1.0"/>
<ellipse cx="491.9" cy="87.5" rx="3.0" ry="2.45" fill="none" stroke="#000" stroke-width="1.0"/>
<ellipse cx="436.6" cy="92.7" rx="3.0" ry="2.45" fill="none" stroke="#000" stroke-width="1.0"/>
<ellipse cx="438.5" cy="95.2" rx="3.0" ry="2.45" fill="none" stroke="#000" stroke-width="1.0"/>
<ellipse cx="447.1" cy="98.6" rx="3.0" ry="2.45" fill="none" stroke="#000" stroke-width="1.0"/>
<ellipse cx="476.0" cy="95.8" rx="3.0" ry="2.45" fill="none" stroke="#000" stroke-width="1.0"/>
<ellipse cx="483.2" cy="95.8" rx="3.0" ry="2.45" fill="none" stroke="#000" stroke-width="1.0"/>
<ellipse cx="483.7" cy="96.7" rx="3.0" ry="2.45" fill="none" stroke="#000" stroke-width="1.0"/>
<ellipse cx="477.5" cy="100.4" rx="3.0" ry="2.45" fill="none" stroke="#000" stroke-width="1.0"/>
<ellipse cx="430.2" cy="102.0" rx="3.0" ry="2.45" fill="none" stroke="#000" stroke-width="1.0"/>
<ellipse cx="433.6" cy="106.0" rx="3.0" ry="2.45" fill="none" stroke="#000" stroke-width="1.0"/>
<ellipse cx="434.3" cy="108.1" rx="3.0" ry="2.45" fill="none" stroke="#000" stroke-width="1.0"/>
<ellipse cx="407.3" cy="109.4" rx="3.0" ry="2.45" fill="none" stroke="#000" stroke-width="1.0"/>
<ellipse cx="425.5" cy="111.2" rx="3.0" ry="2.45" fill="none" stroke="#000" stroke-width="1.0"/>
<ellipse cx="481.4" cy="110.9" rx="3.0" ry="2.45" fill="none" stroke="#000" stroke-width="1.0"/>
<ellipse cx="322.9" cy="128.1" rx="3.0" ry="2.45" fill="none" stroke="#000" stroke-width="1.0"/>
<ellipse cx="314.7" cy="134.3" rx="3.0" ry="2.45" fill="none" stroke="#000" stroke-width="1.0"/>
<ellipse cx="332.1" cy="136.1" rx="3.0" ry="2.45" fill="none" stroke="#000" stroke-width="1.0"/>
<ellipse cx="340.3" cy="129.6" rx="3.0" ry="2.45" fill="none" stroke="#000" stroke-width="1.0"/>
<ellipse cx="400.5" cy="128.1" rx="3.0" ry="2.45" fill="none" stroke="#000" stroke-width="1.0"/>
<ellipse cx="398.0" cy="131.9" rx="3.0" ry="2.45" fill="none" stroke="#000" stroke-width="1.0"/>
<ellipse cx="370.7" cy="133.5" rx="3.0" ry="2.45" fill="none" stroke="#000" stroke-width="1.0"/>
<ellipse cx="364.5" cy="137.3" rx="3.0" ry="2.45" fill="none" stroke="#000" stroke-width="1.0"/>
<ellipse cx="373.0" cy="138.1" rx="3.0" ry="2.45" fill="none" stroke="#000" stroke-width="1.0"/>
<ellipse cx="323.3" cy="145.5" rx="3.0" ry="2.45" fill="none" stroke="#000" stroke-width="1.0"/>
<ellipse cx="348.0" cy="142.7" rx="3.0" ry="2.45" fill="none" stroke="#000" stroke-width="1.0"/>
<ellipse cx="355.7" cy="148.4" rx="3.0" ry="2.45" fill="none" stroke="#000" stroke-width="1.0"/>
<ellipse cx="386.1" cy="148.1" rx="3.0" ry="2.45" fill="none" stroke="#000" stroke-width="1.0"/>
<ellipse cx="314.9" cy="155.5" rx="3.0" ry="2.45" fill="none" stroke="#000" stroke-width="1.0"/>
<ellipse cx="340.3" cy="159.2" rx="3.0" ry="2.45" fill="none" stroke="#000" stroke-width="1.0"/>
<ellipse cx="324.4" cy="163.3" rx="3.0" ry="2.45" fill="none" stroke="#000" stroke-width="1.0"/>
<ellipse cx="317.5" cy="167.4" rx="3.0" ry="2.45" fill="none" stroke="#000" stroke-width="1.0"/>
<ellipse cx="343.7" cy="165.1" rx="3.0" ry="2.45" fill="none" stroke="#000" stroke-width="1.0"/>
<ellipse cx="350.6" cy="163.6" rx="3.0" ry="2.45" fill="none" stroke="#000" stroke-width="1.0"/>
<ellipse cx="353.0" cy="161.7" rx="3.0" ry="2.45" fill="none" stroke="#000" stroke-width="1.0"/>
<ellipse cx="299.3" cy="172.0" rx="3.0" ry="2.45" fill="none" stroke="#000" stroke-width="1.0"/>
<ellipse cx="299.4" cy="182.4" rx="3.0" ry="2.45" fill="none" stroke="#000" stroke-width="1.0"/>
<ellipse cx="395.4" cy="162.8" rx="3.0" ry="2.45" fill="none" stroke="#000" stroke-width="1.0"/>
<ellipse cx="394.3" cy="171.0" rx="3.0" ry="2.45" fill="none" stroke="#000" stroke-width="1.0"/>
<ellipse cx="423.2" cy="130.9" rx="3.0" ry="2.45" fill="none" stroke="#000" stroke-width="1.0"/>
<ellipse cx="428.9" cy="135.5" rx="3.0" ry="2.45" fill="none" stroke="#000" stroke-width="1.0"/>
<ellipse cx="431.2" cy="140.4" rx="3.0" ry="2.45" fill="none" stroke="#000" stroke-width="1.0"/>
<ellipse cx="412.3" cy="143.2" rx="3.0" ry="2.45" fill="none" stroke="#000" stroke-width="1.0"/>
<ellipse cx="456.4" cy="141.2" rx="3.0" ry="2.45" fill="none" stroke="#000" stroke-width="1.0"/>
<ellipse cx="474.9" cy="133.5" rx="3.0" ry="2.45" fill="none" stroke="#000" stroke-width="1.0"/>
<ellipse cx="405.8" cy="164.8" rx="3.0" ry="2.45" fill="none" stroke="#000" stroke-width="1.0"/>
<ellipse cx="422.0" cy="174.7" rx="3.0" ry="2.45" fill="none" stroke="#000" stroke-width="1.0"/>
<path d="M299.7 136.1L502.2 52.4" stroke="#000" stroke-width="1.9" stroke-linecap="butt"/>
<text x="293.6" y="15" font-size="8.4" fill="#000" stroke="#000" stroke-width="0.15" textLength="70.2" lengthAdjust="spacingAndGlyphs"><tspan font-style="italic">y</tspan> = 0.78 + 0.0241 <tspan font-style="italic">x</tspan></text>
<text x="292.5" y="26.2" font-size="8.4" fill="#000" stroke="#000" stroke-width="0.15" textLength="89.5" lengthAdjust="spacingAndGlyphs" xml:space="preserve"><tspan font-style="italic">R</tspan><tspan font-size="5.5" dy="-3.6">2</tspan><tspan dy="3.6"> = 0.36    </tspan><tspan font-style="italic">p</tspan> < 2.2e−16</text>
<path d="M281.7 0V190.8H512.8" fill="none" stroke="#000" stroke-width="1.6"/>
<path d="M279.7 180.5H281.7" stroke="#333" stroke-width="0.6"/>
<text x="278.5" y="182.61" font-size="5.9" fill="#3a3a3a" text-anchor="end">0</text>
<path d="M279.7 140.2H281.7" stroke="#333" stroke-width="0.6"/>
<text x="278.5" y="142.36" font-size="5.9" fill="#3a3a3a" text-anchor="end">1</text>
<path d="M279.7 100.0H281.7" stroke="#333" stroke-width="0.6"/>
<text x="278.5" y="102.11" font-size="5.9" fill="#3a3a3a" text-anchor="end">2</text>
<path d="M279.7 59.8H281.7" stroke="#333" stroke-width="0.6"/>
<text x="278.5" y="61.86" font-size="5.9" fill="#3a3a3a" text-anchor="end">3</text>
<path d="M279.7 19.5H281.7" stroke="#333" stroke-width="0.6"/>
<text x="278.5" y="21.61" font-size="5.9" fill="#3a3a3a" text-anchor="end">4</text>
<path d="M327 190.8V192.8" stroke="#333" stroke-width="0.6"/>
<text x="327" y="197.65" font-size="5.9" fill="#3a3a3a" text-anchor="middle">25</text>
<path d="M385.9 190.8V192.8" stroke="#333" stroke-width="0.6"/>
<text x="385.9" y="197.65" font-size="5.9" fill="#3a3a3a" text-anchor="middle">50</text>
<path d="M444.3 190.8V192.8" stroke="#333" stroke-width="0.6"/>
<text x="444.3" y="197.65" font-size="5.9" fill="#3a3a3a" text-anchor="middle">75</text>
<path d="M503.2 190.8V192.8" stroke="#333" stroke-width="0.6"/>
<text x="503.2" y="197.65" font-size="5.9" fill="#3a3a3a" text-anchor="middle">100</text>
<text x="330.6" y="206" font-size="8.8" fill="#000" stroke="#000" stroke-width="0.3" textLength="169.4" lengthAdjust="spacingAndGlyphs">Percent of population in urban areas (2018)</text>
<text x="492.2" y="14.2" font-size="5.2" font-weight="bold" fill="#1414e6" text-anchor="middle">SMR</text>
<text x="452.5" y="30.4" font-size="5.2" font-weight="bold" fill="#1414e6" text-anchor="middle">ESP</text>
<text x="429.7" y="35.8" font-size="5.2" font-weight="bold" fill="#1414e6" text-anchor="middle">ITA</text>
<text x="453.6" y="38.1" font-size="5.2" font-weight="bold" fill="#1414e6" text-anchor="middle">USA</text>
<text x="469.4" y="37.7" font-size="5.2" font-weight="bold" fill="#1414e6" text-anchor="middle">GBR</text>
<text x="490.3" y="36.1" font-size="5.2" font-weight="bold" fill="#1414e6" text-anchor="middle">SGP</text>
<text x="506.3" y="33.1" font-size="5.2" font-weight="bold" fill="#1414e6" text-anchor="middle">GIB</text>
<text x="505.1" y="42.8" font-size="5.2" font-weight="bold" fill="#1414e6" text-anchor="middle">MCO</text>
<text x="444.8" y="45.4" font-size="5.2" font-weight="bold" fill="#1414e6" text-anchor="middle">DEU</text>
<text x="461.3" y="45.1" font-size="5.2" font-weight="bold" fill="#1414e6" text-anchor="middle">FRA</text>
<text x="436.6" y="52.0" font-size="5.2" font-weight="bold" fill="#1414e6" text-anchor="middle">RUS</text>
<text x="452.8" y="54.7" font-size="5.2" font-weight="bold" fill="#1414e6" text-anchor="middle">TUR</text>
<text x="441.3" y="60.8" font-size="5.2" font-weight="bold" fill="#1414e6" text-anchor="middle">IRN</text>
<text x="376.5" y="90.9" font-size="5.2" font-weight="bold" fill="#1414e6" text-anchor="middle">VGB</text>
<text x="352.6" y="111.3" font-size="5.2" font-weight="bold" fill="#1414e6" text-anchor="middle">IND</text>
<text x="467.9" y="93.8" font-size="5.2" font-weight="bold" fill="#1414e6" text-anchor="middle">GRL</text>
<text x="411.2" y="108.2" font-size="5.2" font-weight="bold" fill="#1414e6" text-anchor="middle">CHN</text>
<text x="319.0" y="133.1" font-size="5.2" font-weight="bold" fill="#1414e6" text-anchor="middle">IND</text>
<text x="390.1" y="146.9" font-size="5.2" font-weight="bold" fill="#1414e6" text-anchor="middle">NAM</text>
<text x="398.0" y="169.8" font-size="5.2" font-weight="bold" fill="#1414e6" text-anchor="middle">MRT</text>
<text x="304.0" y="180.9" font-size="5.2" font-weight="bold" fill="#1414e6" text-anchor="middle">PNG</text>
<text x="422.4" y="141.1" font-size="5.2" font-weight="bold" fill="#1414e6" text-anchor="middle">MNG</text>
<ellipse cx="576.6" cy="40.9" rx="3.0" ry="2.45" fill="none" stroke="#000" stroke-width="1.0"/>
<ellipse cx="577.7" cy="47.0" rx="3.0" ry="2.45" fill="none" stroke="#000" stroke-width="1.0"/>
<ellipse cx="566.4" cy="49.0" rx="3.0" ry="2.45" fill="none" stroke="#000" stroke-width="1.0"/>
<ellipse cx="586.2" cy="51.7" rx="3.0" ry="2.45" fill="none" stroke="#000" stroke-width="1.0"/>
<ellipse cx="583.4" cy="57.4" rx="3.0" ry="2.45" fill="none" stroke="#000" stroke-width="1.0"/>
<ellipse cx="592.4" cy="55.8" rx="3.0" ry="2.45" fill="none" stroke="#000" stroke-width="1.0"/>
<ellipse cx="604.7" cy="55.2" rx="3.0" ry="2.45" fill="none" stroke="#000" stroke-width="1.0"/>
<ellipse cx="611.2" cy="50.1" rx="3.0" ry="2.45" fill="none" stroke="#000" stroke-width="1.0"/>
<ellipse cx="611.2" cy="60.5" rx="3.0" ry="2.45" fill="none" stroke="#000" stroke-width="1.0"/>
<ellipse cx="618.3" cy="46.6" rx="3.0" ry="2.45" fill="none" stroke="#000" stroke-width="1.0"/>
<ellipse cx="618.6" cy="47.8" rx="3.0" ry="2.45" fill="none" stroke="#000" stroke-width="1.0"/>
<ellipse cx="622.0" cy="50.6" rx="3.0" ry="2.45" fill="none" stroke="#000" stroke-width="1.0"/>
<ellipse cx="624.8" cy="63.6" rx="3.0" ry="2.45" fill="none" stroke="#000" stroke-width="1.0"/>
<ellipse cx="631.7" cy="61.4" rx="3.0" ry="2.45" fill="none" stroke="#000" stroke-width="1.0"/>
<ellipse cx="644.0" cy="35.5" rx="3.0" ry="2.45" fill="none" stroke="#000" stroke-width="1.0"/>
<ellipse cx="647.9" cy="48.1" rx="3.0" ry="2.45" fill="none" stroke="#000" stroke-width="1.0"/>
<ellipse cx="644.5" cy="52.1" rx="3.0" ry="2.45" fill="none" stroke="#000" stroke-width="1.0"/>
<ellipse cx="644.0" cy="55.5" rx="3.0" ry="2.45" fill="none" stroke="#000" stroke-width="1.0"/>
<ellipse cx="642.5" cy="57.8" rx="3.0" ry="2.45" fill="none" stroke="#000" stroke-width="1.0"/>
<ellipse cx="660.5" cy="33.2" rx="3.0" ry="2.45" fill="none" stroke="#000" stroke-width="1.0"/>
<ellipse cx="662.1" cy="27.8" rx="3.0" ry="2.45" fill="none" stroke="#000" stroke-width="1.0"/>
<ellipse cx="660.2" cy="59.4" rx="3.0" ry="2.45" fill="none" stroke="#000" stroke-width="1.0"/>
<ellipse cx="661.0" cy="62.5" rx="3.0" ry="2.45" fill="none" stroke="#000" stroke-width="1.0"/>
<ellipse cx="576.2" cy="65.6" rx="3.0" ry="2.45" fill="none" stroke="#000" stroke-width="1.0"/>
<ellipse cx="668.6" cy="30.5" rx="3.0" ry="2.45" fill="none" stroke="#000" stroke-width="1.0"/>
<ellipse cx="676.3" cy="35.2" rx="3.0" ry="2.45" fill="none" stroke="#000" stroke-width="1.0"/>
<ellipse cx="668.9" cy="44.0" rx="3.0" ry="2.45" fill="none" stroke="#000" stroke-width="1.0"/>
<ellipse cx="668.1" cy="53.2" rx="3.0" ry="2.45" fill="none" stroke="#000" stroke-width="1.0"/>
<ellipse cx="698.5" cy="32.7" rx="3.0" ry="2.45" fill="none" stroke="#000" stroke-width="1.0"/>
<ellipse cx="702.8" cy="32.1" rx="3.0" ry="2.45" fill="none" stroke="#000" stroke-width="1.0"/>
<ellipse cx="696.3" cy="37.8" rx="3.0" ry="2.45" fill="none" stroke="#000" stroke-width="1.0"/>
<ellipse cx="694.8" cy="39.3" rx="3.0" ry="2.45" fill="none" stroke="#000" stroke-width="1.0"/>
<ellipse cx="701.0" cy="43.5" rx="3.0" ry="2.45" fill="none" stroke="#000" stroke-width="1.0"/>
<ellipse cx="707.8" cy="42.4" rx="3.0" ry="2.45" fill="none" stroke="#000" stroke-width="1.0"/>
<ellipse cx="708.2" cy="46.0" rx="3.0" ry="2.45" fill="none" stroke="#000" stroke-width="1.0"/>
<ellipse cx="686.6" cy="49.0" rx="3.0" ry="2.45" fill="none" stroke="#000" stroke-width="1.0"/>
<ellipse cx="685.1" cy="52.4" rx="3.0" ry="2.45" fill="none" stroke="#000" stroke-width="1.0"/>
<ellipse cx="694.8" cy="52.4" rx="3.0" ry="2.45" fill="none" stroke="#000" stroke-width="1.0"/>
<ellipse cx="699.7" cy="49.7" rx="3.0" ry="2.45" fill="none" stroke="#000" stroke-width="1.0"/>
<ellipse cx="705.1" cy="49.0" rx="3.0" ry="2.45" fill="none" stroke="#000" stroke-width="1.0"/>
<ellipse cx="704.4" cy="54.3" rx="3.0" ry="2.45" fill="none" stroke="#000" stroke-width="1.0"/>
<ellipse cx="709.8" cy="57.4" rx="3.0" ry="2.45" fill="none" stroke="#000" stroke-width="1.0"/>
<ellipse cx="720.1" cy="58.3" rx="3.0" ry="2.45" fill="none" stroke="#000" stroke-width="1.0"/>
<ellipse cx="722.1" cy="42.4" rx="3.0" ry="2.45" fill="none" stroke="#000" stroke-width="1.0"/>
<ellipse cx="727.8" cy="36.7" rx="3.0" ry="2.45" fill="none" stroke="#000" stroke-width="1.0"/>
<ellipse cx="716.7" cy="46.3" rx="3.0" ry="2.45" fill="none" stroke="#000" stroke-width="1.0"/>
<ellipse cx="695.9" cy="63.2" rx="3.0" ry="2.45" fill="none" stroke="#000" stroke-width="1.0"/>
<ellipse cx="701.3" cy="63.6" rx="3.0" ry="2.45" fill="none" stroke="#000" stroke-width="1.0"/>
<ellipse cx="704.4" cy="64.8" rx="3.0" ry="2.45" fill="none" stroke="#000" stroke-width="1.0"/>
<ellipse cx="592.7" cy="73.6" rx="3.0" ry="2.45" fill="none" stroke="#000" stroke-width="1.0"/>
<ellipse cx="579.7" cy="76.7" rx="3.0" ry="2.45" fill="none" stroke="#000" stroke-width="1.0"/>
<ellipse cx="576.6" cy="80.0" rx="3.0" ry="2.45" fill="none" stroke="#000" stroke-width="1.0"/>
<ellipse cx="585.0" cy="80.4" rx="3.0" ry="2.45" fill="none" stroke="#000" stroke-width="1.0"/>
<ellipse cx="594.7" cy="79.3" rx="3.0" ry="2.45" fill="none" stroke="#000" stroke-width="1.0"/>
<ellipse cx="604.4" cy="83.4" rx="3.0" ry="2.45" fill="none" stroke="#000" stroke-width="1.0"/>
<ellipse cx="612.7" cy="81.6" rx="3.0" ry="2.45" fill="none" stroke="#000" stroke-width="1.0"/>
<ellipse cx="613.2" cy="83.9" rx="3.0" ry="2.45" fill="none" stroke="#000" stroke-width="1.0"/>
<ellipse cx="612.4" cy="86.5" rx="3.0" ry="2.45" fill="none" stroke="#000" stroke-width="1.0"/>
<ellipse cx="608.1" cy="87.5" rx="3.0" ry="2.45" fill="none" stroke="#000" stroke-width="1.0"/>
<ellipse cx="620.1" cy="85.5" rx="3.0" ry="2.45" fill="none" stroke="#000" stroke-width="1.0"/>
<ellipse cx="624.0" cy="83.1" rx="3.0" ry="2.45" fill="none" stroke="#000" stroke-width="1.0"/>
<ellipse cx="630.2" cy="87.8" rx="3.0" ry="2.45" fill="none" stroke="#000" stroke-width="1.0"/>
<ellipse cx="629.7" cy="92.4" rx="3.0" ry="2.45" fill="none" stroke="#000" stroke-width="1.0"/>
<ellipse cx="644.0" cy="82.8" rx="3.0" ry="2.45" fill="none" stroke="#000" stroke-width="1.0"/>
<ellipse cx="660.2" cy="80.0" rx="3.0" ry="2.45" fill="none" stroke="#000" stroke-width="1.0"/>
<ellipse cx="580.8" cy="90.8" rx="3.0" ry="2.45" fill="none" stroke="#000" stroke-width="1.0"/>
<ellipse cx="580.0" cy="94.2" rx="3.0" ry="2.45" fill="none" stroke="#000" stroke-width="1.0"/>
<ellipse cx="577.7" cy="97.0" rx="3.0" ry="2.45" fill="none" stroke="#000" stroke-width="1.0"/>
<ellipse cx="578.5" cy="99.8" rx="3.0" ry="2.45" fill="none" stroke="#000" stroke-width="1.0"/>
<ellipse cx="582.3" cy="99.3" rx="3.0" ry="2.45" fill="none" stroke="#000" stroke-width="1.0"/>
<ellipse cx="589.0" cy="92.7" rx="3.0" ry="2.45" fill="none" stroke="#000" stroke-width="1.0"/>
<ellipse cx="591.1" cy="92.4" rx="3.0" ry="2.45" fill="none" stroke="#000" stroke-width="1.0"/>
<ellipse cx="593.6" cy="87.8" rx="3.0" ry="2.45" fill="none" stroke="#000" stroke-width="1.0"/>
<ellipse cx="598.2" cy="90.5" rx="3.0" ry="2.45" fill="none" stroke="#000" stroke-width="1.0"/>
<ellipse cx="606.2" cy="94.2" rx="3.0" ry="2.45" fill="none" stroke="#000" stroke-width="1.0"/>
<ellipse cx="610.9" cy="90.8" rx="3.0" ry="2.45" fill="none" stroke="#000" stroke-width="1.0"/>
<ellipse cx="610.9" cy="96.2" rx="3.0" ry="2.45" fill="none" stroke="#000" stroke-width="1.0"/>
<ellipse cx="619.8" cy="92.4" rx="3.0" ry="2.45" fill="none" stroke="#000" stroke-width="1.0"/>
<ellipse cx="624.4" cy="90.1" rx="3.0" ry="2.45" fill="none" stroke="#000" stroke-width="1.0"/>
<ellipse cx="614.7" cy="98.3" rx="3.0" ry="2.45" fill="none" stroke="#000" stroke-width="1.0"/>
<ellipse cx="605.9" cy="99.8" rx="3.0" ry="2.45" fill="none" stroke="#000" stroke-width="1.0"/>
<ellipse cx="596.7" cy="99.3" rx="3.0" ry="2.45" fill="none" stroke="#000" stroke-width="1.0"/>
<ellipse cx="597.3" cy="101.3" rx="3.0" ry="2.45" fill="none" stroke="#000" stroke-width="1.0"/>
<ellipse cx="620.1" cy="102.0" rx="3.0" ry="2.45" fill="none" stroke="#000" stroke-width="1.0"/>
<ellipse cx="631.2" cy="99.8" rx="3.0" ry="2.45" fill="none" stroke="#000" stroke-width="1.0"/>
<ellipse cx="641.0" cy="95.5" rx="3.0" ry="2.45" fill="none" stroke="#000" stroke-width="1.0"/>
<ellipse cx="638.6" cy="102.9" rx="3.0" ry="2.45" fill="none" stroke="#000" stroke-width="1.0"/>
<ellipse cx="639.4" cy="109.4" rx="3.0" ry="2.45" fill="none" stroke="#000" stroke-width="1.0"/>
<ellipse cx="626.6" cy="107.8" rx="3.0" ry="2.45" fill="none" stroke="#000" stroke-width="1.0"/>
<ellipse cx="635.9" cy="115.5" rx="3.0" ry="2.45" fill="none" stroke="#000" stroke-width="1.0"/>
<ellipse cx="646.7" cy="114.3" rx="3.0" ry="2.45" fill="none" stroke="#000" stroke-width="1.0"/>
<ellipse cx="580.0" cy="106.3" rx="3.0" ry="2.45" fill="none" stroke="#000" stroke-width="1.0"/>
<ellipse cx="584.3" cy="106.0" rx="3.0" ry="2.45" fill="none" stroke="#000" stroke-width="1.0"/>
<ellipse cx="578.5" cy="110.9" rx="3.0" ry="2.45" fill="none" stroke="#000" stroke-width="1.0"/>
<ellipse cx="591.1" cy="105.5" rx="3.0" ry="2.45" fill="none" stroke="#000" stroke-width="1.0"/>
<ellipse cx="594.2" cy="109.4" rx="3.0" ry="2.45" fill="none" stroke="#000" stroke-width="1.0"/>
<ellipse cx="587.4" cy="110.1" rx="3.0" ry="2.45" fill="none" stroke="#000" stroke-width="1.0"/>
<ellipse cx="593.9" cy="113.7" rx="3.0" ry="2.45" fill="none" stroke="#000" stroke-width="1.0"/>
<ellipse cx="601.9" cy="111.2" rx="3.0" ry="2.45" fill="none" stroke="#000" stroke-width="1.0"/>
<ellipse cx="604.7" cy="112.1" rx="3.0" ry="2.45" fill="none" stroke="#000" stroke-width="1.0"/>
<ellipse cx="576.2" cy="117.8" rx="3.0" ry="2.45" fill="none" stroke="#000" stroke-width="1.0"/>
<ellipse cx="583.4" cy="115.5" rx="3.0" ry="2.45" fill="none" stroke="#000" stroke-width="1.0"/>
<ellipse cx="585.0" cy="120.5" rx="3.0" ry="2.45" fill="none" stroke="#000" stroke-width="1.0"/>
<ellipse cx="580.0" cy="124.8" rx="3.0" ry="2.45" fill="none" stroke="#000" stroke-width="1.0"/>
<ellipse cx="670.1" cy="70.8" rx="3.0" ry="2.45" fill="none" stroke="#000" stroke-width="1.0"/>
<ellipse cx="681.2" cy="67.4" rx="3.0" ry="2.45" fill="none" stroke="#000" stroke-width="1.0"/>
<ellipse cx="680.9" cy="77.7" rx="3.0" ry="2.45" fill="none" stroke="#000" stroke-width="1.0"/>
<ellipse cx="688.9" cy="74.7" rx="3.0" ry="2.45" fill="none" stroke="#000" stroke-width="1.0"/>
<ellipse cx="698.2" cy="64.3" rx="3.0" ry="2.45" fill="none" stroke="#000" stroke-width="1.0"/>
<ellipse cx="704.4" cy="66.5" rx="3.0" ry="2.45" fill="none" stroke="#000" stroke-width="1.0"/>
<ellipse cx="705.1" cy="70.5" rx="3.0" ry="2.45" fill="none" stroke="#000" stroke-width="1.0"/>
<ellipse cx="708.2" cy="71.6" rx="3.0" ry="2.45" fill="none" stroke="#000" stroke-width="1.0"/>
<ellipse cx="710.8" cy="70.5" rx="3.0" ry="2.45" fill="none" stroke="#000" stroke-width="1.0"/>
<ellipse cx="701.0" cy="78.2" rx="3.0" ry="2.45" fill="none" stroke="#000" stroke-width="1.0"/>
<ellipse cx="714.8" cy="81.6" rx="3.0" ry="2.45" fill="none" stroke="#000" stroke-width="1.0"/>
<ellipse cx="720.1" cy="83.1" rx="3.0" ry="2.45" fill="none" stroke="#000" stroke-width="1.0"/>
<ellipse cx="675.8" cy="81.3" rx="3.0" ry="2.45" fill="none" stroke="#000" stroke-width="1.0"/>
<ellipse cx="675.1" cy="83.4" rx="3.0" ry="2.45" fill="none" stroke="#000" stroke-width="1.0"/>
<ellipse cx="674.7" cy="85.0" rx="3.0" ry="2.45" fill="none" stroke="#000" stroke-width="1.0"/>
<ellipse cx="665.5" cy="86.5" rx="3.0" ry="2.45" fill="none" stroke="#000" stroke-width="1.0"/>
<ellipse cx="669.2" cy="88.1" rx="3.0" ry="2.45" fill="none" stroke="#000" stroke-width="1.0"/>
<ellipse cx="668.6" cy="91.6" rx="3.0" ry="2.45" fill="none" stroke="#000" stroke-width="1.0"/>
<ellipse cx="671.7" cy="92.1" rx="3.0" ry="2.45" fill="none" stroke="#000" stroke-width="1.0"/>
<ellipse cx="682.5" cy="100.1" rx="3.0" ry="2.45" fill="none" stroke="#000" stroke-width="1.0"/>
<ellipse cx="763.4" cy="95.8" rx="3.0" ry="2.45" fill="none" stroke="#000" stroke-width="1.0"/>
<ellipse cx="578.2" cy="126.5" rx="3.0" ry="2.45" fill="none" stroke="#000" stroke-width="1.0"/>
<ellipse cx="580.8" cy="126.5" rx="3.0" ry="2.45" fill="none" stroke="#000" stroke-width="1.0"/>
<ellipse cx="590.5" cy="129.3" rx="3.0" ry="2.45" fill="none" stroke="#000" stroke-width="1.0"/>
<ellipse cx="598.8" cy="127.8" rx="3.0" ry="2.45" fill="none" stroke="#000" stroke-width="1.0"/>
<ellipse cx="595.1" cy="131.9" rx="3.0" ry="2.45" fill="none" stroke="#000" stroke-width="1.0"/>
<ellipse cx="609.6" cy="130.9" rx="3.0" ry="2.45" fill="none" stroke="#000" stroke-width="1.0"/>
<ellipse cx="612.4" cy="133.9" rx="3.0" ry="2.45" fill="none" stroke="#000" stroke-width="1.0"/>
<ellipse cx="573.8" cy="133.0" rx="3.0" ry="2.45" fill="none" stroke="#000" stroke-width="1.0"/>
<ellipse cx="575.4" cy="136.1" rx="3.0" ry="2.45" fill="none" stroke="#000" stroke-width="1.0"/>
<ellipse cx="581.3" cy="137.6" rx="3.0" ry="2.45" fill="none" stroke="#000" stroke-width="1.0"/>
<ellipse cx="583.9" cy="134.3" rx="3.0" ry="2.45" fill="none" stroke="#000" stroke-width="1.0"/>
<ellipse cx="589.0" cy="135.8" rx="3.0" ry="2.45" fill="none" stroke="#000" stroke-width="1.0"/>
<ellipse cx="603.2" cy="137.0" rx="3.0" ry="2.45" fill="none" stroke="#000" stroke-width="1.0"/>
<ellipse cx="590.0" cy="140.4" rx="3.0" ry="2.45" fill="none" stroke="#000" stroke-width="1.0"/>
<ellipse cx="592.4" cy="145.8" rx="3.0" ry="2.45" fill="none" stroke="#000" stroke-width="1.0"/>
<ellipse cx="577.7" cy="143.2" rx="3.0" ry="2.45" fill="none" stroke="#000" stroke-width="1.0"/>
<ellipse cx="580.3" cy="148.4" rx="3.0" ry="2.45" fill="none" stroke="#000" stroke-width="1.0"/>
<ellipse cx="585.9" cy="147.8" rx="3.0" ry="2.45" fill="none" stroke="#000" stroke-width="1.0"/>
<ellipse cx="600.8" cy="155.5" rx="3.0" ry="2.45" fill="none" stroke="#000" stroke-width="1.0"/>
<ellipse cx="601.3" cy="159.2" rx="3.0" ry="2.45" fill="none" stroke="#000" stroke-width="1.0"/>
<ellipse cx="612.7" cy="161.2" rx="3.0" ry="2.45" fill="none" stroke="#000" stroke-width="1.0"/>
<ellipse cx="572.6" cy="163.3" rx="3.0" ry="2.45" fill="none" stroke="#000" stroke-width="1.0"/>
<ellipse cx="579.7" cy="161.7" rx="3.0" ry="2.45" fill="none" stroke="#000" stroke-width="1.0"/>
<ellipse cx="580.0" cy="164.8" rx="3.0" ry="2.45" fill="none" stroke="#000" stroke-width="1.0"/>
<ellipse cx="584.3" cy="167.9" rx="3.0" ry="2.45" fill="none" stroke="#000" stroke-width="1.0"/>
<ellipse cx="589.0" cy="163.9" rx="3.0" ry="2.45" fill="none" stroke="#000" stroke-width="1.0"/>
<ellipse cx="592.4" cy="162.8" rx="3.0" ry="2.45" fill="none" stroke="#000" stroke-width="1.0"/>
<ellipse cx="597.3" cy="165.1" rx="3.0" ry="2.45" fill="none" stroke="#000" stroke-width="1.0"/>
<ellipse cx="581.6" cy="171.0" rx="3.0" ry="2.45" fill="none" stroke="#000" stroke-width="1.0"/>
<ellipse cx="575.4" cy="171.6" rx="3.0" ry="2.45" fill="none" stroke="#000" stroke-width="1.0"/>
<ellipse cx="574.6" cy="175.1" rx="3.0" ry="2.45" fill="none" stroke="#000" stroke-width="1.0"/>
<ellipse cx="583.9" cy="182.4" rx="3.0" ry="2.45" fill="none" stroke="#000" stroke-width="1.0"/>
<path d="M566.9 119.4L763.7 28.5" stroke="#000" stroke-width="1.9" stroke-linecap="butt"/>
<text x="554.6" y="15" font-size="8.4" fill="#000" stroke="#000" stroke-width="0.15" textLength="70.5" lengthAdjust="spacingAndGlyphs"><tspan font-style="italic">y</tspan> = 1.33 + 0.0854 <tspan font-style="italic">x</tspan></text>
<text x="553.5" y="26.2" font-size="8.4" fill="#000" stroke="#000" stroke-width="0.15" textLength="87.5" lengthAdjust="spacingAndGlyphs" xml:space="preserve"><tspan font-style="italic">R</tspan><tspan font-size="5.5" dy="-3.6">2</tspan><tspan dy="3.6"> = 0.35    </tspan><tspan font-style="italic">p</tspan> < 2.2e−16</text>
<path d="M542.8 0V190.8H773.8" fill="none" stroke="#000" stroke-width="1.6"/>
<path d="M540.8 180.5H542.8" stroke="#333" stroke-width="0.6"/>
<text x="539.5999999999999" y="182.61" font-size="5.9" fill="#3a3a3a" text-anchor="end">0</text>
<path d="M540.8 140.2H542.8" stroke="#333" stroke-width="0.6"/>
<text x="539.5999999999999" y="142.36" font-size="5.9" fill="#3a3a3a" text-anchor="end">1</text>
<path d="M540.8 100.0H542.8" stroke="#333" stroke-width="0.6"/>
<text x="539.5999999999999" y="102.11" font-size="5.9" fill="#3a3a3a" text-anchor="end">2</text>
<path d="M540.8 59.8H542.8" stroke="#333" stroke-width="0.6"/>
<text x="539.5999999999999" y="61.86" font-size="5.9" fill="#3a3a3a" text-anchor="end">3</text>
<path d="M540.8 19.5H542.8" stroke="#333" stroke-width="0.6"/>
<text x="539.5999999999999" y="21.61" font-size="5.9" fill="#3a3a3a" text-anchor="end">4</text>
<path d="M550.5 190.8V192.8" stroke="#333" stroke-width="0.6"/>
<text x="550.5" y="197.65" font-size="5.9" fill="#3a3a3a" text-anchor="middle">0</text>
<path d="M625.4 190.8V192.8" stroke="#333" stroke-width="0.6"/>
<text x="625.4" y="197.65" font-size="5.9" fill="#3a3a3a" text-anchor="middle">10</text>
<path d="M699.9 190.8V192.8" stroke="#333" stroke-width="0.6"/>
<text x="699.9" y="197.65" font-size="5.9" fill="#3a3a3a" text-anchor="middle">20</text>
<text x="590.7" y="206.4" font-size="8.8" fill="#000" stroke="#000" stroke-width="0.3" textLength="158.4" lengthAdjust="spacingAndGlyphs">Percent of population over 65 yrs (2018)</text>
<text x="647.7" y="34.0" font-size="5.2" font-weight="bold" fill="#1414e6" text-anchor="middle">SGP</text>
<text x="608.5" y="54.3" font-size="5.2" font-weight="bold" fill="#1414e6" text-anchor="middle">IRN</text>
<text x="625.5" y="55.9" font-size="5.2" font-weight="bold" fill="#1414e6" text-anchor="middle">TUR</text>
<text x="707.0" y="30.4" font-size="5.2" font-weight="bold" fill="#1414e6" text-anchor="middle">ESP</text>
<text x="672.4" y="40.9" font-size="5.2" font-weight="bold" fill="#1414e6" text-anchor="middle">USA</text>
<text x="691.2" y="44.3" font-size="5.2" font-weight="bold" fill="#1414e6" text-anchor="middle">GBR</text>
<text x="725.0" y="40.8" font-size="5.2" font-weight="bold" fill="#1414e6" text-anchor="middle">ITA</text>
<text x="714.8" y="46.3" font-size="5.2" font-weight="bold" fill="#1414e6" text-anchor="middle">FRA</text>
<text x="672.2" y="52.0" font-size="5.2" font-weight="bold" fill="#1414e6" text-anchor="middle">RUS</text>
<text x="722.7" y="52.8" font-size="5.2" font-weight="bold" fill="#1414e6" text-anchor="middle">DEU</text>
<text x="609.2" y="117.7" font-size="5.2" font-weight="bold" fill="#1414e6" text-anchor="middle">IND</text>
<text x="646.6" y="107.9" font-size="5.2" font-weight="bold" fill="#1414e6" text-anchor="middle">CHN</text>
<text x="581.6" y="133.1" font-size="5.2" font-weight="bold" fill="#1414e6" text-anchor="middle">IND</text>
<text x="597.5" y="139.2" font-size="5.2" font-weight="bold" fill="#1414e6" text-anchor="middle">MNG</text>
<text x="590.0" y="153.9" font-size="5.2" font-weight="bold" fill="#1414e6" text-anchor="middle">NAM</text>
<text x="589.8" y="173.9" font-size="5.2" font-weight="bold" fill="#1414e6" text-anchor="middle">MRT</text>
<text x="580.2" y="187.8" font-size="5.2" font-weight="bold" fill="#1414e6" text-anchor="middle">PNG</text>
<ellipse cx="37.6" cy="241.1" rx="3.0" ry="2.45" fill="none" stroke="#000" stroke-width="1.0"/>
<ellipse cx="37.6" cy="245.5" rx="3.0" ry="2.45" fill="none" stroke="#000" stroke-width="1.0"/>
<ellipse cx="44.3" cy="248.1" rx="3.0" ry="2.45" fill="none" stroke="#000" stroke-width="1.0"/>
<ellipse cx="45.1" cy="250.4" rx="3.0" ry="2.45" fill="none" stroke="#000" stroke-width="1.0"/>
<ellipse cx="42.0" cy="251.6" rx="3.0" ry="2.45" fill="none" stroke="#000" stroke-width="1.0"/>
<ellipse cx="36.6" cy="250.4" rx="3.0" ry="2.45" fill="none" stroke="#000" stroke-width="1.0"/>
<ellipse cx="34.3" cy="252.7" rx="3.0" ry="2.45" fill="none" stroke="#000" stroke-width="1.0"/>
<ellipse cx="37.3" cy="255.0" rx="3.0" ry="2.45" fill="none" stroke="#000" stroke-width="1.0"/>
<ellipse cx="42.7" cy="255.3" rx="3.0" ry="2.45" fill="none" stroke="#000" stroke-width="1.0"/>
<ellipse cx="35.8" cy="257.8" rx="3.0" ry="2.45" fill="none" stroke="#000" stroke-width="1.0"/>
<ellipse cx="38.9" cy="258.9" rx="3.0" ry="2.45" fill="none" stroke="#000" stroke-width="1.0"/>
<ellipse cx="48.1" cy="259.3" rx="3.0" ry="2.45" fill="none" stroke="#000" stroke-width="1.0"/>
<ellipse cx="36.6" cy="262.0" rx="3.0" ry="2.45" fill="none" stroke="#000" stroke-width="1.0"/>
<ellipse cx="40.4" cy="262.7" rx="3.0" ry="2.45" fill="none" stroke="#000" stroke-width="1.0"/>
<ellipse cx="35.0" cy="265.0" rx="3.0" ry="2.45" fill="none" stroke="#000" stroke-width="1.0"/>
<ellipse cx="37.3" cy="266.1" rx="3.0" ry="2.45" fill="none" stroke="#000" stroke-width="1.0"/>
<ellipse cx="40.4" cy="267.1" rx="3.0" ry="2.45" fill="none" stroke="#000" stroke-width="1.0"/>
<ellipse cx="43.2" cy="267.7" rx="3.0" ry="2.45" fill="none" stroke="#000" stroke-width="1.0"/>
<ellipse cx="36.6" cy="268.9" rx="3.0" ry="2.45" fill="none" stroke="#000" stroke-width="1.0"/>
<ellipse cx="38.9" cy="271.2" rx="3.0" ry="2.45" fill="none" stroke="#000" stroke-width="1.0"/>
<ellipse cx="48.1" cy="270.8" rx="3.0" ry="2.45" fill="none" stroke="#000" stroke-width="1.0"/>
<ellipse cx="55.1" cy="269.7" rx="3.0" ry="2.45" fill="none" stroke="#000" stroke-width="1.0"/>
<ellipse cx="55.8" cy="270.4" rx="3.0" ry="2.45" fill="none" stroke="#000" stroke-width="1.0"/>
<ellipse cx="60.5" cy="262.0" rx="3.0" ry="2.45" fill="none" stroke="#000" stroke-width="1.0"/>
<ellipse cx="67.4" cy="265.8" rx="3.0" ry="2.45" fill="none" stroke="#000" stroke-width="1.0"/>
<ellipse cx="71.3" cy="270.4" rx="3.0" ry="2.45" fill="none" stroke="#000" stroke-width="1.0"/>
<ellipse cx="76.7" cy="268.6" rx="3.0" ry="2.45" fill="none" stroke="#000" stroke-width="1.0"/>
<ellipse cx="75.1" cy="272.8" rx="3.0" ry="2.45" fill="none" stroke="#000" stroke-width="1.0"/>
<ellipse cx="42.0" cy="275.1" rx="3.0" ry="2.45" fill="none" stroke="#000" stroke-width="1.0"/>
<ellipse cx="36.6" cy="275.4" rx="3.0" ry="2.45" fill="none" stroke="#000" stroke-width="1.0"/>
<ellipse cx="34.3" cy="278.9" rx="3.0" ry="2.45" fill="none" stroke="#000" stroke-width="1.0"/>
<ellipse cx="39.7" cy="277.8" rx="3.0" ry="2.45" fill="none" stroke="#000" stroke-width="1.0"/>
<ellipse cx="55.8" cy="278.2" rx="3.0" ry="2.45" fill="none" stroke="#000" stroke-width="1.0"/>
<ellipse cx="55.8" cy="281.6" rx="3.0" ry="2.45" fill="none" stroke="#000" stroke-width="1.0"/>
<ellipse cx="70.5" cy="281.2" rx="3.0" ry="2.45" fill="none" stroke="#000" stroke-width="1.0"/>
<ellipse cx="85.9" cy="280.9" rx="3.0" ry="2.45" fill="none" stroke="#000" stroke-width="1.0"/>
<ellipse cx="48.1" cy="282.5" rx="3.0" ry="2.45" fill="none" stroke="#000" stroke-width="1.0"/>
<ellipse cx="38.9" cy="282.0" rx="3.0" ry="2.45" fill="none" stroke="#000" stroke-width="1.0"/>
<ellipse cx="97.5" cy="264.6" rx="3.0" ry="2.45" fill="none" stroke="#000" stroke-width="1.0"/>
<ellipse cx="100.9" cy="268.1" rx="3.0" ry="2.45" fill="none" stroke="#000" stroke-width="1.0"/>
<ellipse cx="104.4" cy="275.4" rx="3.0" ry="2.45" fill="none" stroke="#000" stroke-width="1.0"/>
<ellipse cx="112.2" cy="273.8" rx="3.0" ry="2.45" fill="none" stroke="#000" stroke-width="1.0"/>
<ellipse cx="117.5" cy="273.8" rx="3.0" ry="2.45" fill="none" stroke="#000" stroke-width="1.0"/>
<ellipse cx="42.0" cy="283.1" rx="3.0" ry="2.45" fill="none" stroke="#000" stroke-width="1.0"/>
<ellipse cx="47.4" cy="283.4" rx="3.0" ry="2.45" fill="none" stroke="#000" stroke-width="1.0"/>
<ellipse cx="70.5" cy="285.4" rx="3.0" ry="2.45" fill="none" stroke="#000" stroke-width="1.0"/>
<ellipse cx="44.3" cy="286.9" rx="3.0" ry="2.45" fill="none" stroke="#000" stroke-width="1.0"/>
<ellipse cx="49.7" cy="288.5" rx="3.0" ry="2.45" fill="none" stroke="#000" stroke-width="1.0"/>
<ellipse cx="52.0" cy="287.7" rx="3.0" ry="2.45" fill="none" stroke="#000" stroke-width="1.0"/>
<ellipse cx="62.0" cy="291.1" rx="3.0" ry="2.45" fill="none" stroke="#000" stroke-width="1.0"/>
<ellipse cx="57.4" cy="292.0" rx="3.0" ry="2.45" fill="none" stroke="#000" stroke-width="1.0"/>
<ellipse cx="69.0" cy="295.1" rx="3.0" ry="2.45" fill="none" stroke="#000" stroke-width="1.0"/>
<ellipse cx="37.3" cy="296.7" rx="3.0" ry="2.45" fill="none" stroke="#000" stroke-width="1.0"/>
<ellipse cx="45.8" cy="295.4" rx="3.0" ry="2.45" fill="none" stroke="#000" stroke-width="1.0"/>
<ellipse cx="39.7" cy="299.7" rx="3.0" ry="2.45" fill="none" stroke="#000" stroke-width="1.0"/>
<ellipse cx="42.0" cy="299.3" rx="3.0" ry="2.45" fill="none" stroke="#000" stroke-width="1.0"/>
<ellipse cx="47.4" cy="299.3" rx="3.0" ry="2.45" fill="none" stroke="#000" stroke-width="1.0"/>
<ellipse cx="48.9" cy="302.4" rx="3.0" ry="2.45" fill="none" stroke="#000" stroke-width="1.0"/>
<ellipse cx="45.1" cy="303.1" rx="3.0" ry="2.45" fill="none" stroke="#000" stroke-width="1.0"/>
<ellipse cx="52.5" cy="303.9" rx="3.0" ry="2.45" fill="none" stroke="#000" stroke-width="1.0"/>
<ellipse cx="38.9" cy="302.8" rx="3.0" ry="2.45" fill="none" stroke="#000" stroke-width="1.0"/>
<ellipse cx="62.0" cy="300.1" rx="3.0" ry="2.45" fill="none" stroke="#000" stroke-width="1.0"/>
<ellipse cx="58.6" cy="304.7" rx="3.0" ry="2.45" fill="none" stroke="#000" stroke-width="1.0"/>
<ellipse cx="72.0" cy="299.7" rx="3.0" ry="2.45" fill="none" stroke="#000" stroke-width="1.0"/>
<ellipse cx="72.8" cy="303.4" rx="3.0" ry="2.45" fill="none" stroke="#000" stroke-width="1.0"/>
<ellipse cx="46.6" cy="308.1" rx="3.0" ry="2.45" fill="none" stroke="#000" stroke-width="1.0"/>
<ellipse cx="35.0" cy="313.2" rx="3.0" ry="2.45" fill="none" stroke="#000" stroke-width="1.0"/>
<ellipse cx="42.7" cy="313.6" rx="3.0" ry="2.45" fill="none" stroke="#000" stroke-width="1.0"/>
<ellipse cx="49.4" cy="316.2" rx="3.0" ry="2.45" fill="none" stroke="#000" stroke-width="1.0"/>
<ellipse cx="57.4" cy="312.4" rx="3.0" ry="2.45" fill="none" stroke="#000" stroke-width="1.0"/>
<ellipse cx="59.7" cy="309.0" rx="3.0" ry="2.45" fill="none" stroke="#000" stroke-width="1.0"/>
<ellipse cx="63.6" cy="310.1" rx="3.0" ry="2.45" fill="none" stroke="#000" stroke-width="1.0"/>
<ellipse cx="65.9" cy="313.6" rx="3.0" ry="2.45" fill="none" stroke="#000" stroke-width="1.0"/>
<ellipse cx="72.0" cy="308.5" rx="3.0" ry="2.45" fill="none" stroke="#000" stroke-width="1.0"/>
<ellipse cx="73.6" cy="310.1" rx="3.0" ry="2.45" fill="none" stroke="#000" stroke-width="1.0"/>
<ellipse cx="75.1" cy="312.4" rx="3.0" ry="2.45" fill="none" stroke="#000" stroke-width="1.0"/>
<ellipse cx="84.4" cy="309.6" rx="3.0" ry="2.45" fill="none" stroke="#000" stroke-width="1.0"/>
<ellipse cx="64.8" cy="319.8" rx="3.0" ry="2.45" fill="none" stroke="#000" stroke-width="1.0"/>
<ellipse cx="74.7" cy="317.3" rx="3.0" ry="2.45" fill="none" stroke="#000" stroke-width="1.0"/>
<ellipse cx="80.5" cy="317.3" rx="3.0" ry="2.45" fill="none" stroke="#000" stroke-width="1.0"/>
<ellipse cx="76.7" cy="324.0" rx="3.0" ry="2.45" fill="none" stroke="#000" stroke-width="1.0"/>
<ellipse cx="41.2" cy="320.9" rx="3.0" ry="2.45" fill="none" stroke="#000" stroke-width="1.0"/>
<ellipse cx="38.9" cy="325.5" rx="3.0" ry="2.45" fill="none" stroke="#000" stroke-width="1.0"/>
<ellipse cx="42.0" cy="328.6" rx="3.0" ry="2.45" fill="none" stroke="#000" stroke-width="1.0"/>
<ellipse cx="73.6" cy="331.2" rx="3.0" ry="2.45" fill="none" stroke="#000" stroke-width="1.0"/>
<ellipse cx="90.1" cy="317.3" rx="3.0" ry="2.45" fill="none" stroke="#000" stroke-width="1.0"/>
<ellipse cx="90.6" cy="319.3" rx="3.0" ry="2.45" fill="none" stroke="#000" stroke-width="1.0"/>
<ellipse cx="91.0" cy="323.5" rx="3.0" ry="2.45" fill="none" stroke="#000" stroke-width="1.0"/>
<ellipse cx="94.7" cy="326.6" rx="3.0" ry="2.45" fill="none" stroke="#000" stroke-width="1.0"/>
<ellipse cx="92.1" cy="333.2" rx="3.0" ry="2.45" fill="none" stroke="#000" stroke-width="1.0"/>
<ellipse cx="94.1" cy="335.5" rx="3.0" ry="2.45" fill="none" stroke="#000" stroke-width="1.0"/>
<ellipse cx="102.1" cy="329.0" rx="3.0" ry="2.45" fill="none" stroke="#000" stroke-width="1.0"/>
<ellipse cx="107.5" cy="326.6" rx="3.0" ry="2.45" fill="none" stroke="#000" stroke-width="1.0"/>
<ellipse cx="109.1" cy="329.7" rx="3.0" ry="2.45" fill="none" stroke="#000" stroke-width="1.0"/>
<ellipse cx="108.3" cy="332.4" rx="3.0" ry="2.45" fill="none" stroke="#000" stroke-width="1.0"/>
<ellipse cx="114.2" cy="329.0" rx="3.0" ry="2.45" fill="none" stroke="#000" stroke-width="1.0"/>
<ellipse cx="104.9" cy="303.9" rx="3.0" ry="2.45" fill="none" stroke="#000" stroke-width="1.0"/>
<ellipse cx="105.5" cy="305.5" rx="3.0" ry="2.45" fill="none" stroke="#000" stroke-width="1.0"/>
<ellipse cx="104.4" cy="312.1" rx="3.0" ry="2.45" fill="none" stroke="#000" stroke-width="1.0"/>
<ellipse cx="104.9" cy="317.0" rx="3.0" ry="2.45" fill="none" stroke="#000" stroke-width="1.0"/>
<ellipse cx="111.1" cy="298.5" rx="3.0" ry="2.45" fill="none" stroke="#000" stroke-width="1.0"/>
<ellipse cx="117.5" cy="301.6" rx="3.0" ry="2.45" fill="none" stroke="#000" stroke-width="1.0"/>
<ellipse cx="120.3" cy="298.2" rx="3.0" ry="2.45" fill="none" stroke="#000" stroke-width="1.0"/>
<ellipse cx="115.7" cy="308.5" rx="3.0" ry="2.45" fill="none" stroke="#000" stroke-width="1.0"/>
<ellipse cx="120.6" cy="311.6" rx="3.0" ry="2.45" fill="none" stroke="#000" stroke-width="1.0"/>
<ellipse cx="131.1" cy="297.7" rx="3.0" ry="2.45" fill="none" stroke="#000" stroke-width="1.0"/>
<ellipse cx="131.7" cy="309.0" rx="3.0" ry="2.45" fill="none" stroke="#000" stroke-width="1.0"/>
<ellipse cx="134.2" cy="315.2" rx="3.0" ry="2.45" fill="none" stroke="#000" stroke-width="1.0"/>
<ellipse cx="135.8" cy="317.8" rx="3.0" ry="2.45" fill="none" stroke="#000" stroke-width="1.0"/>
<ellipse cx="125.0" cy="319.8" rx="3.0" ry="2.45" fill="none" stroke="#000" stroke-width="1.0"/>
<ellipse cx="128.3" cy="325.0" rx="3.0" ry="2.45" fill="none" stroke="#000" stroke-width="1.0"/>
<ellipse cx="134.2" cy="329.7" rx="3.0" ry="2.45" fill="none" stroke="#000" stroke-width="1.0"/>
<ellipse cx="126.8" cy="338.3" rx="3.0" ry="2.45" fill="none" stroke="#000" stroke-width="1.0"/>
<ellipse cx="124.5" cy="341.4" rx="3.0" ry="2.45" fill="none" stroke="#000" stroke-width="1.0"/>
<ellipse cx="116.0" cy="343.6" rx="3.0" ry="2.45" fill="none" stroke="#000" stroke-width="1.0"/>
<ellipse cx="122.2" cy="344.0" rx="3.0" ry="2.45" fill="none" stroke="#000" stroke-width="1.0"/>
<ellipse cx="138.8" cy="345.6" rx="3.0" ry="2.45" fill="none" stroke="#000" stroke-width="1.0"/>
<ellipse cx="191.7" cy="294.7" rx="3.0" ry="2.45" fill="none" stroke="#000" stroke-width="1.0"/>
<ellipse cx="177.0" cy="309.0" rx="3.0" ry="2.45" fill="none" stroke="#000" stroke-width="1.0"/>
<ellipse cx="225.1" cy="324.7" rx="3.0" ry="2.45" fill="none" stroke="#000" stroke-width="1.0"/>
<ellipse cx="161.9" cy="334.0" rx="3.0" ry="2.45" fill="none" stroke="#000" stroke-width="1.0"/>
<ellipse cx="178.9" cy="335.8" rx="3.0" ry="2.45" fill="none" stroke="#000" stroke-width="1.0"/>
<ellipse cx="207.1" cy="336.3" rx="3.0" ry="2.45" fill="none" stroke="#000" stroke-width="1.0"/>
<ellipse cx="212.5" cy="334.8" rx="3.0" ry="2.45" fill="none" stroke="#000" stroke-width="1.0"/>
<ellipse cx="179.3" cy="343.6" rx="3.0" ry="2.45" fill="none" stroke="#000" stroke-width="1.0"/>
<ellipse cx="210.2" cy="345.6" rx="3.0" ry="2.45" fill="none" stroke="#000" stroke-width="1.0"/>
<ellipse cx="52.0" cy="348.3" rx="3.0" ry="2.45" fill="none" stroke="#000" stroke-width="1.0"/>
<ellipse cx="53.1" cy="350.9" rx="3.0" ry="2.45" fill="none" stroke="#000" stroke-width="1.0"/>
<ellipse cx="100.9" cy="349.9" rx="3.0" ry="2.45" fill="none" stroke="#000" stroke-width="1.0"/>
<ellipse cx="98.7" cy="353.6" rx="3.0" ry="2.45" fill="none" stroke="#000" stroke-width="1.0"/>
<ellipse cx="98.7" cy="361.0" rx="3.0" ry="2.45" fill="none" stroke="#000" stroke-width="1.0"/>
<ellipse cx="82.8" cy="357.9" rx="3.0" ry="2.45" fill="none" stroke="#000" stroke-width="1.0"/>
<ellipse cx="77.1" cy="359.1" rx="3.0" ry="2.45" fill="none" stroke="#000" stroke-width="1.0"/>
<ellipse cx="86.4" cy="365.9" rx="3.0" ry="2.45" fill="none" stroke="#000" stroke-width="1.0"/>
<ellipse cx="111.7" cy="363.3" rx="3.0" ry="2.45" fill="none" stroke="#000" stroke-width="1.0"/>
<ellipse cx="117.2" cy="345.2" rx="3.0" ry="2.45" fill="none" stroke="#000" stroke-width="1.0"/>
<ellipse cx="121.9" cy="345.2" rx="3.0" ry="2.45" fill="none" stroke="#000" stroke-width="1.0"/>
<ellipse cx="59.7" cy="380.7" rx="3.0" ry="2.45" fill="none" stroke="#000" stroke-width="1.0"/>
<ellipse cx="104.0" cy="382.6" rx="3.0" ry="2.45" fill="none" stroke="#000" stroke-width="1.0"/>
<ellipse cx="123.0" cy="379.2" rx="3.0" ry="2.45" fill="none" stroke="#000" stroke-width="1.0"/>
<ellipse cx="147.4" cy="350.9" rx="3.0" ry="2.45" fill="none" stroke="#000" stroke-width="1.0"/>
<ellipse cx="160.4" cy="353.6" rx="3.0" ry="2.45" fill="none" stroke="#000" stroke-width="1.0"/>
<ellipse cx="162.8" cy="355.1" rx="3.0" ry="2.45" fill="none" stroke="#000" stroke-width="1.0"/>
<ellipse cx="167.0" cy="352.0" rx="3.0" ry="2.45" fill="none" stroke="#000" stroke-width="1.0"/>
<ellipse cx="175.8" cy="356.0" rx="3.0" ry="2.45" fill="none" stroke="#000" stroke-width="1.0"/>
<ellipse cx="185.5" cy="355.1" rx="3.0" ry="2.45" fill="none" stroke="#000" stroke-width="1.0"/>
<ellipse cx="185.0" cy="360.7" rx="3.0" ry="2.45" fill="none" stroke="#000" stroke-width="1.0"/>
<ellipse cx="182.9" cy="365.9" rx="3.0" ry="2.45" fill="none" stroke="#000" stroke-width="1.0"/>
<ellipse cx="184.7" cy="373.0" rx="3.0" ry="2.45" fill="none" stroke="#000" stroke-width="1.0"/>
<ellipse cx="148.5" cy="376.7" rx="3.0" ry="2.45" fill="none" stroke="#000" stroke-width="1.0"/>
<ellipse cx="179.3" cy="381.0" rx="3.0" ry="2.45" fill="none" stroke="#000" stroke-width="1.0"/>
<ellipse cx="186.3" cy="381.8" rx="3.0" ry="2.45" fill="none" stroke="#000" stroke-width="1.0"/>
<ellipse cx="187.5" cy="384.9" rx="3.0" ry="2.45" fill="none" stroke="#000" stroke-width="1.0"/>
<ellipse cx="196.3" cy="379.2" rx="3.0" ry="2.45" fill="none" stroke="#000" stroke-width="1.0"/>
<ellipse cx="201.7" cy="381.0" rx="3.0" ry="2.45" fill="none" stroke="#000" stroke-width="1.0"/>
<ellipse cx="153.9" cy="388.0" rx="3.0" ry="2.45" fill="none" stroke="#000" stroke-width="1.0"/>
<ellipse cx="150.0" cy="392.6" rx="3.0" ry="2.45" fill="none" stroke="#000" stroke-width="1.0"/>
<ellipse cx="170.5" cy="399.5" rx="3.0" ry="2.45" fill="none" stroke="#000" stroke-width="1.0"/>
<ellipse cx="245.2" cy="390.0" rx="3.0" ry="2.45" fill="none" stroke="#000" stroke-width="1.0"/>
<ellipse cx="37.5" cy="263.5" rx="3.0" ry="2.45" fill="none" stroke="#000" stroke-width="1.0"/>
<ellipse cx="40.5" cy="265.5" rx="3.0" ry="2.45" fill="none" stroke="#000" stroke-width="1.0"/>
<ellipse cx="44.0" cy="284.0" rx="3.0" ry="2.45" fill="none" stroke="#000" stroke-width="1.0"/>
<ellipse cx="50.0" cy="286.5" rx="3.0" ry="2.45" fill="none" stroke="#000" stroke-width="1.0"/>
<ellipse cx="54.0" cy="289.0" rx="3.0" ry="2.45" fill="none" stroke="#000" stroke-width="1.0"/>
<ellipse cx="40.0" cy="281.5" rx="3.0" ry="2.45" fill="none" stroke="#000" stroke-width="1.0"/>
<path d="M34.3 281.8L245.2 390" stroke="#000" stroke-width="1.9" stroke-linecap="butt"/>
<text x="173.9" y="232.7" font-size="8.4" fill="#000" stroke="#000" stroke-width="0.15" textLength="70.7" lengthAdjust="spacingAndGlyphs"><tspan font-style="italic">y</tspan> = 2.88 − 0.0292 <tspan font-style="italic">x</tspan></text>
<text x="141.5" y="243.9" font-size="8.4" fill="#000" stroke="#000" stroke-width="0.15" textLength="83.6" lengthAdjust="spacingAndGlyphs" xml:space="preserve"><tspan font-style="italic">R</tspan><tspan font-size="5.5" dy="-3.6">2</tspan><tspan dy="3.6"> = 0.49    </tspan><tspan font-style="italic">p</tspan> < 2.2e−16</text>
<path d="M25 217.6V408H256" fill="none" stroke="#000" stroke-width="1.6"/>
<path d="M23 398.0H25" stroke="#333" stroke-width="0.6"/>
<text x="21.8" y="400.08" font-size="5.8" fill="#3a3a3a" text-anchor="end">0</text>
<path d="M23 357.8H25" stroke="#333" stroke-width="0.6"/>
<text x="21.8" y="359.88" font-size="5.8" fill="#3a3a3a" text-anchor="end">1</text>
<path d="M23 317.6H25" stroke="#333" stroke-width="0.6"/>
<text x="21.8" y="319.68" font-size="5.8" fill="#3a3a3a" text-anchor="end">2</text>
<path d="M23 277.4H25" stroke="#333" stroke-width="0.6"/>
<text x="21.8" y="279.48" font-size="5.8" fill="#3a3a3a" text-anchor="end">3</text>
<path d="M23 237.2H25" stroke="#333" stroke-width="0.6"/>
<text x="21.8" y="239.28" font-size="5.8" fill="#3a3a3a" text-anchor="end">4</text>
<path d="M34.3 408V410" stroke="#333" stroke-width="0.6"/>
<text x="34.3" y="414.78" font-size="5.8" fill="#3a3a3a" text-anchor="middle">0</text>
<path d="M91.5 408V410" stroke="#333" stroke-width="0.6"/>
<text x="91.5" y="414.78" font-size="5.8" fill="#3a3a3a" text-anchor="middle">25</text>
<path d="M149.3 408V410" stroke="#333" stroke-width="0.6"/>
<text x="149.3" y="414.78" font-size="5.8" fill="#3a3a3a" text-anchor="middle">50</text>
<path d="M206.5 408V410" stroke="#333" stroke-width="0.6"/>
<text x="206.5" y="414.78" font-size="5.8" fill="#3a3a3a" text-anchor="middle">75</text>
<text x="30.4" y="425.6" font-size="8.8" fill="#000" stroke="#000" stroke-width="0.3" textLength="216.6" lengthAdjust="spacingAndGlyphs">Percent of total employment in agriculture (male, 2018)</text>
<text x="46.4" y="243.3" font-size="5.2" font-weight="bold" fill="#1414e6" text-anchor="middle">USA</text>
<text x="31.7" y="250.0" font-size="5.2" font-weight="bold" fill="#1414e6" text-anchor="middle">SGP</text>
<text x="53.4" y="250.0" font-size="5.2" font-weight="bold" fill="#1414e6" text-anchor="middle">ESP</text>
<text x="31.6" y="257.7" font-size="5.2" font-weight="bold" fill="#1414e6" text-anchor="middle">GBR</text>
<text x="49.7" y="258.2" font-size="5.2" font-weight="bold" fill="#1414e6" text-anchor="middle">ITA</text>
<text x="31.6" y="264.3" font-size="5.2" font-weight="bold" fill="#1414e6" text-anchor="middle">DEU</text>
<text x="48.4" y="265.4" font-size="5.2" font-weight="bold" fill="#1414e6" text-anchor="middle">FRA</text>
<text x="81.3" y="267.4" font-size="5.2" font-weight="bold" fill="#1414e6" text-anchor="middle">TUR</text>
<text x="52.2" y="276.7" font-size="5.2" font-weight="bold" fill="#1414e6" text-anchor="middle">RUS</text>
<text x="71.5" y="278.5" font-size="5.2" font-weight="bold" fill="#1414e6" text-anchor="middle">IRN</text>
<text x="87.4" y="332.0" font-size="5.2" font-weight="bold" fill="#1414e6" text-anchor="middle">CHN</text>
<text x="127.5" y="335.1" font-size="5.2" font-weight="bold" fill="#1414e6" text-anchor="middle">IND</text>
<text x="95.0" y="358.5" font-size="5.2" font-weight="bold" fill="#1414e6" text-anchor="middle">MNG</text>
<text x="90.2" y="365.2" font-size="5.2" font-weight="bold" fill="#1414e6" text-anchor="middle">NAM</text>
<text x="170.9" y="350.5" font-size="5.2" font-weight="bold" fill="#1414e6" text-anchor="middle">SSD</text>
<text x="158.2" y="394.0" font-size="5.2" font-weight="bold" fill="#1414e6" text-anchor="middle">MRT</text>
<text x="166.6" y="405.3" font-size="5.2" font-weight="bold" fill="#1414e6" text-anchor="middle">PNG</text>
<ellipse cx="401.2" cy="274.3" rx="3.0" ry="2.45" fill="none" stroke="#000" stroke-width="1.0"/>
<ellipse cx="401.2" cy="281.2" rx="3.0" ry="2.45" fill="none" stroke="#000" stroke-width="1.0"/>
<ellipse cx="504.7" cy="245.8" rx="3.0" ry="2.45" fill="none" stroke="#000" stroke-width="1.0"/>
<ellipse cx="494.7" cy="253.8" rx="3.0" ry="2.45" fill="none" stroke="#000" stroke-width="1.0"/>
<ellipse cx="483.9" cy="248.5" rx="3.0" ry="2.45" fill="none" stroke="#000" stroke-width="1.0"/>
<ellipse cx="479.3" cy="250.7" rx="3.0" ry="2.45" fill="none" stroke="#000" stroke-width="1.0"/>
<ellipse cx="475.4" cy="250.4" rx="3.0" ry="2.45" fill="none" stroke="#000" stroke-width="1.0"/>
<ellipse cx="473.1" cy="250.4" rx="3.0" ry="2.45" fill="none" stroke="#000" stroke-width="1.0"/>
<ellipse cx="477.0" cy="255.8" rx="3.0" ry="2.45" fill="none" stroke="#000" stroke-width="1.0"/>
<ellipse cx="481.6" cy="252.7" rx="3.0" ry="2.45" fill="none" stroke="#000" stroke-width="1.0"/>
<ellipse cx="487.8" cy="257.8" rx="3.0" ry="2.45" fill="none" stroke="#000" stroke-width="1.0"/>
<ellipse cx="486.2" cy="260.9" rx="3.0" ry="2.45" fill="none" stroke="#000" stroke-width="1.0"/>
<ellipse cx="490.1" cy="262.0" rx="3.0" ry="2.45" fill="none" stroke="#000" stroke-width="1.0"/>
<ellipse cx="478.5" cy="264.0" rx="3.0" ry="2.45" fill="none" stroke="#000" stroke-width="1.0"/>
<ellipse cx="483.2" cy="266.6" rx="3.0" ry="2.45" fill="none" stroke="#000" stroke-width="1.0"/>
<ellipse cx="482.4" cy="268.9" rx="3.0" ry="2.45" fill="none" stroke="#000" stroke-width="1.0"/>
<ellipse cx="490.9" cy="266.6" rx="3.0" ry="2.45" fill="none" stroke="#000" stroke-width="1.0"/>
<ellipse cx="481.6" cy="271.2" rx="3.0" ry="2.45" fill="none" stroke="#000" stroke-width="1.0"/>
<ellipse cx="460.5" cy="255.0" rx="3.0" ry="2.45" fill="none" stroke="#000" stroke-width="1.0"/>
<ellipse cx="457.4" cy="260.0" rx="3.0" ry="2.45" fill="none" stroke="#000" stroke-width="1.0"/>
<ellipse cx="443.5" cy="258.9" rx="3.0" ry="2.45" fill="none" stroke="#000" stroke-width="1.0"/>
<ellipse cx="443.5" cy="267.1" rx="3.0" ry="2.45" fill="none" stroke="#000" stroke-width="1.0"/>
<ellipse cx="452.3" cy="265.8" rx="3.0" ry="2.45" fill="none" stroke="#000" stroke-width="1.0"/>
<ellipse cx="463.6" cy="264.0" rx="3.0" ry="2.45" fill="none" stroke="#000" stroke-width="1.0"/>
<ellipse cx="469.3" cy="265.5" rx="3.0" ry="2.45" fill="none" stroke="#000" stroke-width="1.0"/>
<ellipse cx="462.3" cy="268.1" rx="3.0" ry="2.45" fill="none" stroke="#000" stroke-width="1.0"/>
<ellipse cx="467.0" cy="270.1" rx="3.0" ry="2.45" fill="none" stroke="#000" stroke-width="1.0"/>
<ellipse cx="456.2" cy="270.8" rx="3.0" ry="2.45" fill="none" stroke="#000" stroke-width="1.0"/>
<ellipse cx="453.1" cy="272.0" rx="3.0" ry="2.45" fill="none" stroke="#000" stroke-width="1.0"/>
<ellipse cx="451.8" cy="273.2" rx="3.0" ry="2.45" fill="none" stroke="#000" stroke-width="1.0"/>
<ellipse cx="466.2" cy="275.8" rx="3.0" ry="2.45" fill="none" stroke="#000" stroke-width="1.0"/>
<ellipse cx="470.0" cy="276.3" rx="3.0" ry="2.45" fill="none" stroke="#000" stroke-width="1.0"/>
<ellipse cx="462.0" cy="278.5" rx="3.0" ry="2.45" fill="none" stroke="#000" stroke-width="1.0"/>
<ellipse cx="461.6" cy="282.5" rx="3.0" ry="2.45" fill="none" stroke="#000" stroke-width="1.0"/>
<ellipse cx="428.4" cy="262.7" rx="3.0" ry="2.45" fill="none" stroke="#000" stroke-width="1.0"/>
<ellipse cx="426.1" cy="265.0" rx="3.0" ry="2.45" fill="none" stroke="#000" stroke-width="1.0"/>
<ellipse cx="426.1" cy="271.2" rx="3.0" ry="2.45" fill="none" stroke="#000" stroke-width="1.0"/>
<ellipse cx="414.5" cy="268.1" rx="3.0" ry="2.45" fill="none" stroke="#000" stroke-width="1.0"/>
<ellipse cx="415.3" cy="272.8" rx="3.0" ry="2.45" fill="none" stroke="#000" stroke-width="1.0"/>
<ellipse cx="415.3" cy="275.8" rx="3.0" ry="2.45" fill="none" stroke="#000" stroke-width="1.0"/>
<ellipse cx="409.9" cy="273.5" rx="3.0" ry="2.45" fill="none" stroke="#000" stroke-width="1.0"/>
<ellipse cx="415.3" cy="281.2" rx="3.0" ry="2.45" fill="none" stroke="#000" stroke-width="1.0"/>
<ellipse cx="432.7" cy="282.0" rx="3.0" ry="2.45" fill="none" stroke="#000" stroke-width="1.0"/>
<ellipse cx="437.3" cy="282.8" rx="3.0" ry="2.45" fill="none" stroke="#000" stroke-width="1.0"/>
<ellipse cx="440.7" cy="283.6" rx="3.0" ry="2.45" fill="none" stroke="#000" stroke-width="1.0"/>
<ellipse cx="486.7" cy="275.8" rx="3.0" ry="2.45" fill="none" stroke="#000" stroke-width="1.0"/>
<ellipse cx="489.3" cy="277.8" rx="3.0" ry="2.45" fill="none" stroke="#000" stroke-width="1.0"/>
<ellipse cx="493.2" cy="281.5" rx="3.0" ry="2.45" fill="none" stroke="#000" stroke-width="1.0"/>
<ellipse cx="499.7" cy="280.0" rx="3.0" ry="2.45" fill="none" stroke="#000" stroke-width="1.0"/>
<ellipse cx="477.8" cy="283.6" rx="3.0" ry="2.45" fill="none" stroke="#000" stroke-width="1.0"/>
<ellipse cx="341.1" cy="295.4" rx="3.0" ry="2.45" fill="none" stroke="#000" stroke-width="1.0"/>
<ellipse cx="376.5" cy="298.2" rx="3.0" ry="2.45" fill="none" stroke="#000" stroke-width="1.0"/>
<ellipse cx="389.2" cy="298.8" rx="3.0" ry="2.45" fill="none" stroke="#000" stroke-width="1.0"/>
<ellipse cx="359.6" cy="309.6" rx="3.0" ry="2.45" fill="none" stroke="#000" stroke-width="1.0"/>
<ellipse cx="389.7" cy="309.6" rx="3.0" ry="2.45" fill="none" stroke="#000" stroke-width="1.0"/>
<ellipse cx="392.0" cy="310.1" rx="3.0" ry="2.45" fill="none" stroke="#000" stroke-width="1.0"/>
<ellipse cx="375.3" cy="312.1" rx="3.0" ry="2.45" fill="none" stroke="#000" stroke-width="1.0"/>
<ellipse cx="377.8" cy="316.2" rx="3.0" ry="2.45" fill="none" stroke="#000" stroke-width="1.0"/>
<ellipse cx="381.2" cy="320.4" rx="3.0" ry="2.45" fill="none" stroke="#000" stroke-width="1.0"/>
<ellipse cx="384.6" cy="318.6" rx="3.0" ry="2.45" fill="none" stroke="#000" stroke-width="1.0"/>
<ellipse cx="402.8" cy="302.4" rx="3.0" ry="2.45" fill="none" stroke="#000" stroke-width="1.0"/>
<ellipse cx="402.8" cy="312.4" rx="3.0" ry="2.45" fill="none" stroke="#000" stroke-width="1.0"/>
<ellipse cx="402.8" cy="318.6" rx="3.0" ry="2.45" fill="none" stroke="#000" stroke-width="1.0"/>
<ellipse cx="398.1" cy="323.2" rx="3.0" ry="2.45" fill="none" stroke="#000" stroke-width="1.0"/>
<ellipse cx="402.8" cy="326.0" rx="3.0" ry="2.45" fill="none" stroke="#000" stroke-width="1.0"/>
<ellipse cx="395.8" cy="328.1" rx="3.0" ry="2.45" fill="none" stroke="#000" stroke-width="1.0"/>
<ellipse cx="397.4" cy="331.7" rx="3.0" ry="2.45" fill="none" stroke="#000" stroke-width="1.0"/>
<ellipse cx="395.1" cy="333.2" rx="3.0" ry="2.45" fill="none" stroke="#000" stroke-width="1.0"/>
<ellipse cx="311.5" cy="325.0" rx="3.0" ry="2.45" fill="none" stroke="#000" stroke-width="1.0"/>
<ellipse cx="321.8" cy="335.5" rx="3.0" ry="2.45" fill="none" stroke="#000" stroke-width="1.0"/>
<ellipse cx="322.6" cy="337.4" rx="3.0" ry="2.45" fill="none" stroke="#000" stroke-width="1.0"/>
<ellipse cx="359.6" cy="330.9" rx="3.0" ry="2.45" fill="none" stroke="#000" stroke-width="1.0"/>
<ellipse cx="376.2" cy="334.3" rx="3.0" ry="2.45" fill="none" stroke="#000" stroke-width="1.0"/>
<ellipse cx="383.0" cy="336.3" rx="3.0" ry="2.45" fill="none" stroke="#000" stroke-width="1.0"/>
<ellipse cx="390.1" cy="338.3" rx="3.0" ry="2.45" fill="none" stroke="#000" stroke-width="1.0"/>
<ellipse cx="386.1" cy="341.4" rx="3.0" ry="2.45" fill="none" stroke="#000" stroke-width="1.0"/>
<ellipse cx="353.7" cy="336.8" rx="3.0" ry="2.45" fill="none" stroke="#000" stroke-width="1.0"/>
<ellipse cx="350.3" cy="344.0" rx="3.0" ry="2.45" fill="none" stroke="#000" stroke-width="1.0"/>
<ellipse cx="332.1" cy="345.6" rx="3.0" ry="2.45" fill="none" stroke="#000" stroke-width="1.0"/>
<ellipse cx="394.3" cy="345.6" rx="3.0" ry="2.45" fill="none" stroke="#000" stroke-width="1.0"/>
<ellipse cx="413.0" cy="285.9" rx="3.0" ry="2.45" fill="none" stroke="#000" stroke-width="1.0"/>
<ellipse cx="450.8" cy="288.0" rx="3.0" ry="2.45" fill="none" stroke="#000" stroke-width="1.0"/>
<ellipse cx="452.3" cy="288.9" rx="3.0" ry="2.45" fill="none" stroke="#000" stroke-width="1.0"/>
<ellipse cx="450.3" cy="292.0" rx="3.0" ry="2.45" fill="none" stroke="#000" stroke-width="1.0"/>
<ellipse cx="458.0" cy="289.6" rx="3.0" ry="2.45" fill="none" stroke="#000" stroke-width="1.0"/>
<ellipse cx="467.7" cy="289.6" rx="3.0" ry="2.45" fill="none" stroke="#000" stroke-width="1.0"/>
<ellipse cx="430.2" cy="292.6" rx="3.0" ry="2.45" fill="none" stroke="#000" stroke-width="1.0"/>
<ellipse cx="435.8" cy="296.7" rx="3.0" ry="2.45" fill="none" stroke="#000" stroke-width="1.0"/>
<ellipse cx="441.0" cy="296.7" rx="3.0" ry="2.45" fill="none" stroke="#000" stroke-width="1.0"/>
<ellipse cx="436.9" cy="300.8" rx="3.0" ry="2.45" fill="none" stroke="#000" stroke-width="1.0"/>
<ellipse cx="442.3" cy="300.1" rx="3.0" ry="2.45" fill="none" stroke="#000" stroke-width="1.0"/>
<ellipse cx="423.0" cy="298.8" rx="3.0" ry="2.45" fill="none" stroke="#000" stroke-width="1.0"/>
<ellipse cx="404.9" cy="301.9" rx="3.0" ry="2.45" fill="none" stroke="#000" stroke-width="1.0"/>
<ellipse cx="405.6" cy="304.7" rx="3.0" ry="2.45" fill="none" stroke="#000" stroke-width="1.0"/>
<ellipse cx="406.0" cy="305.9" rx="3.0" ry="2.45" fill="none" stroke="#000" stroke-width="1.0"/>
<ellipse cx="440.0" cy="304.4" rx="3.0" ry="2.45" fill="none" stroke="#000" stroke-width="1.0"/>
<ellipse cx="443.0" cy="304.4" rx="3.0" ry="2.45" fill="none" stroke="#000" stroke-width="1.0"/>
<ellipse cx="454.9" cy="300.8" rx="3.0" ry="2.45" fill="none" stroke="#000" stroke-width="1.0"/>
<ellipse cx="458.9" cy="304.7" rx="3.0" ry="2.45" fill="none" stroke="#000" stroke-width="1.0"/>
<ellipse cx="466.2" cy="300.8" rx="3.0" ry="2.45" fill="none" stroke="#000" stroke-width="1.0"/>
<ellipse cx="471.6" cy="302.8" rx="3.0" ry="2.45" fill="none" stroke="#000" stroke-width="1.0"/>
<ellipse cx="466.2" cy="305.5" rx="3.0" ry="2.45" fill="none" stroke="#000" stroke-width="1.0"/>
<ellipse cx="463.9" cy="309.3" rx="3.0" ry="2.45" fill="none" stroke="#000" stroke-width="1.0"/>
<ellipse cx="479.3" cy="299.7" rx="3.0" ry="2.45" fill="none" stroke="#000" stroke-width="1.0"/>
<ellipse cx="481.1" cy="299.3" rx="3.0" ry="2.45" fill="none" stroke="#000" stroke-width="1.0"/>
<ellipse cx="481.1" cy="304.7" rx="3.0" ry="2.45" fill="none" stroke="#000" stroke-width="1.0"/>
<ellipse cx="492.9" cy="297.3" rx="3.0" ry="2.45" fill="none" stroke="#000" stroke-width="1.0"/>
<ellipse cx="494.4" cy="303.1" rx="3.0" ry="2.45" fill="none" stroke="#000" stroke-width="1.0"/>
<ellipse cx="403.4" cy="312.7" rx="3.0" ry="2.45" fill="none" stroke="#000" stroke-width="1.0"/>
<ellipse cx="418.8" cy="310.1" rx="3.0" ry="2.45" fill="none" stroke="#000" stroke-width="1.0"/>
<ellipse cx="432.2" cy="312.4" rx="3.0" ry="2.45" fill="none" stroke="#000" stroke-width="1.0"/>
<ellipse cx="431.2" cy="313.6" rx="3.0" ry="2.45" fill="none" stroke="#000" stroke-width="1.0"/>
<ellipse cx="436.9" cy="311.6" rx="3.0" ry="2.45" fill="none" stroke="#000" stroke-width="1.0"/>
<ellipse cx="442.3" cy="310.8" rx="3.0" ry="2.45" fill="none" stroke="#000" stroke-width="1.0"/>
<ellipse cx="447.7" cy="310.1" rx="3.0" ry="2.45" fill="none" stroke="#000" stroke-width="1.0"/>
<ellipse cx="453.4" cy="308.5" rx="3.0" ry="2.45" fill="none" stroke="#000" stroke-width="1.0"/>
<ellipse cx="455.4" cy="310.5" rx="3.0" ry="2.45" fill="none" stroke="#000" stroke-width="1.0"/>
<ellipse cx="457.7" cy="310.1" rx="3.0" ry="2.45" fill="none" stroke="#000" stroke-width="1.0"/>
<ellipse cx="442.3" cy="314.2" rx="3.0" ry="2.45" fill="none" stroke="#000" stroke-width="1.0"/>
<ellipse cx="436.9" cy="317.0" rx="3.0" ry="2.45" fill="none" stroke="#000" stroke-width="1.0"/>
<ellipse cx="439.2" cy="316.7" rx="3.0" ry="2.45" fill="none" stroke="#000" stroke-width="1.0"/>
<ellipse cx="445.1" cy="318.6" rx="3.0" ry="2.45" fill="none" stroke="#000" stroke-width="1.0"/>
<ellipse cx="422.5" cy="317.0" rx="3.0" ry="2.45" fill="none" stroke="#000" stroke-width="1.0"/>
<ellipse cx="425.0" cy="318.3" rx="3.0" ry="2.45" fill="none" stroke="#000" stroke-width="1.0"/>
<ellipse cx="417.9" cy="320.4" rx="3.0" ry="2.45" fill="none" stroke="#000" stroke-width="1.0"/>
<ellipse cx="465.4" cy="313.9" rx="3.0" ry="2.45" fill="none" stroke="#000" stroke-width="1.0"/>
<ellipse cx="480.5" cy="313.6" rx="3.0" ry="2.45" fill="none" stroke="#000" stroke-width="1.0"/>
<ellipse cx="403.4" cy="319.3" rx="3.0" ry="2.45" fill="none" stroke="#000" stroke-width="1.0"/>
<ellipse cx="398.3" cy="324.0" rx="3.0" ry="2.45" fill="none" stroke="#000" stroke-width="1.0"/>
<ellipse cx="406.8" cy="327.0" rx="3.0" ry="2.45" fill="none" stroke="#000" stroke-width="1.0"/>
<ellipse cx="402.2" cy="330.1" rx="3.0" ry="2.45" fill="none" stroke="#000" stroke-width="1.0"/>
<ellipse cx="397.5" cy="334.0" rx="3.0" ry="2.45" fill="none" stroke="#000" stroke-width="1.0"/>
<ellipse cx="431.8" cy="324.7" rx="3.0" ry="2.45" fill="none" stroke="#000" stroke-width="1.0"/>
<ellipse cx="459.6" cy="321.3" rx="3.0" ry="2.45" fill="none" stroke="#000" stroke-width="1.0"/>
<ellipse cx="465.4" cy="329.1" rx="3.0" ry="2.45" fill="none" stroke="#000" stroke-width="1.0"/>
<ellipse cx="477.8" cy="326.0" rx="3.0" ry="2.45" fill="none" stroke="#000" stroke-width="1.0"/>
<ellipse cx="452.8" cy="331.7" rx="3.0" ry="2.45" fill="none" stroke="#000" stroke-width="1.0"/>
<ellipse cx="403.7" cy="344.5" rx="3.0" ry="2.45" fill="none" stroke="#000" stroke-width="1.0"/>
<ellipse cx="413.0" cy="344.5" rx="3.0" ry="2.45" fill="none" stroke="#000" stroke-width="1.0"/>
<ellipse cx="406.8" cy="344.8" rx="3.0" ry="2.45" fill="none" stroke="#000" stroke-width="1.0"/>
<ellipse cx="394.8" cy="347.9" rx="3.0" ry="2.45" fill="none" stroke="#000" stroke-width="1.0"/>
<ellipse cx="381.2" cy="351.7" rx="3.0" ry="2.45" fill="none" stroke="#000" stroke-width="1.0"/>
<ellipse cx="375.8" cy="354.5" rx="3.0" ry="2.45" fill="none" stroke="#000" stroke-width="1.0"/>
<ellipse cx="364.5" cy="355.6" rx="3.0" ry="2.45" fill="none" stroke="#000" stroke-width="1.0"/>
<ellipse cx="355.3" cy="356.6" rx="3.0" ry="2.45" fill="none" stroke="#000" stroke-width="1.0"/>
<ellipse cx="351.9" cy="352.0" rx="3.0" ry="2.45" fill="none" stroke="#000" stroke-width="1.0"/>
<ellipse cx="341.1" cy="355.6" rx="3.0" ry="2.45" fill="none" stroke="#000" stroke-width="1.0"/>
<ellipse cx="349.1" cy="361.0" rx="3.0" ry="2.45" fill="none" stroke="#000" stroke-width="1.0"/>
<ellipse cx="346.0" cy="366.8" rx="3.0" ry="2.45" fill="none" stroke="#000" stroke-width="1.0"/>
<ellipse cx="376.2" cy="363.7" rx="3.0" ry="2.45" fill="none" stroke="#000" stroke-width="1.0"/>
<ellipse cx="328.4" cy="373.6" rx="3.0" ry="2.45" fill="none" stroke="#000" stroke-width="1.0"/>
<ellipse cx="332.1" cy="379.8" rx="3.0" ry="2.45" fill="none" stroke="#000" stroke-width="1.0"/>
<ellipse cx="330.3" cy="381.8" rx="3.0" ry="2.45" fill="none" stroke="#000" stroke-width="1.0"/>
<ellipse cx="342.6" cy="381.3" rx="3.0" ry="2.45" fill="none" stroke="#000" stroke-width="1.0"/>
<ellipse cx="347.2" cy="382.9" rx="3.0" ry="2.45" fill="none" stroke="#000" stroke-width="1.0"/>
<ellipse cx="337.7" cy="385.6" rx="3.0" ry="2.45" fill="none" stroke="#000" stroke-width="1.0"/>
<ellipse cx="366.5" cy="377.6" rx="3.0" ry="2.45" fill="none" stroke="#000" stroke-width="1.0"/>
<ellipse cx="367.3" cy="379.8" rx="3.0" ry="2.45" fill="none" stroke="#000" stroke-width="1.0"/>
<ellipse cx="294.0" cy="390.3" rx="3.0" ry="2.45" fill="none" stroke="#000" stroke-width="1.0"/>
<ellipse cx="368.8" cy="389.0" rx="3.0" ry="2.45" fill="none" stroke="#000" stroke-width="1.0"/>
<ellipse cx="384.6" cy="393.1" rx="3.0" ry="2.45" fill="none" stroke="#000" stroke-width="1.0"/>
<ellipse cx="366.5" cy="400.8" rx="3.0" ry="2.45" fill="none" stroke="#000" stroke-width="1.0"/>
<ellipse cx="445.1" cy="350.2" rx="3.0" ry="2.45" fill="none" stroke="#000" stroke-width="1.0"/>
<ellipse cx="456.9" cy="348.9" rx="3.0" ry="2.45" fill="none" stroke="#000" stroke-width="1.0"/>
<ellipse cx="471.3" cy="351.7" rx="3.0" ry="2.45" fill="none" stroke="#000" stroke-width="1.0"/>
<ellipse cx="415.3" cy="354.0" rx="3.0" ry="2.45" fill="none" stroke="#000" stroke-width="1.0"/>
<ellipse cx="425.0" cy="361.7" rx="3.0" ry="2.45" fill="none" stroke="#000" stroke-width="1.0"/>
<ellipse cx="430.2" cy="359.4" rx="3.0" ry="2.45" fill="none" stroke="#000" stroke-width="1.0"/>
<ellipse cx="435.8" cy="358.7" rx="3.0" ry="2.45" fill="none" stroke="#000" stroke-width="1.0"/>
<ellipse cx="436.9" cy="366.8" rx="3.0" ry="2.45" fill="none" stroke="#000" stroke-width="1.0"/>
<ellipse cx="415.3" cy="383.3" rx="3.0" ry="2.45" fill="none" stroke="#000" stroke-width="1.0"/>
<ellipse cx="439.5" cy="381.3" rx="3.0" ry="2.45" fill="none" stroke="#000" stroke-width="1.0"/>
<path d="M294 380.2L504.7 268.1" stroke="#000" stroke-width="1.9" stroke-linecap="butt"/>
<text x="295.6" y="233" font-size="8.4" fill="#000" stroke="#000" stroke-width="0.15" textLength="70.5" lengthAdjust="spacingAndGlyphs"><tspan font-style="italic">y</tspan> = 0.24 + 0.0345 <tspan font-style="italic">x</tspan></text>
<text x="330" y="244.2" font-size="8.4" fill="#000" stroke="#000" stroke-width="0.15" textLength="89.1" lengthAdjust="spacingAndGlyphs" xml:space="preserve"><tspan font-style="italic">R</tspan><tspan font-size="5.5" dy="-3.6">2</tspan><tspan dy="3.6"> = 0.45    </tspan><tspan font-style="italic">p</tspan> < 2.2e−16</text>
<path d="M284 218.3V408.6H514.4" fill="none" stroke="#000" stroke-width="1.6"/>
<path d="M282 398.6H284" stroke="#333" stroke-width="0.6"/>
<text x="280.8" y="400.68" font-size="5.8" fill="#3a3a3a" text-anchor="end">0</text>
<path d="M282 358.4H284" stroke="#333" stroke-width="0.6"/>
<text x="280.8" y="360.48" font-size="5.8" fill="#3a3a3a" text-anchor="end">1</text>
<path d="M282 318.2H284" stroke="#333" stroke-width="0.6"/>
<text x="280.8" y="320.28" font-size="5.8" fill="#3a3a3a" text-anchor="end">2</text>
<path d="M282 278.0H284" stroke="#333" stroke-width="0.6"/>
<text x="280.8" y="280.08" font-size="5.8" fill="#3a3a3a" text-anchor="end">3</text>
<path d="M282 237.8H284" stroke="#333" stroke-width="0.6"/>
<text x="280.8" y="239.88" font-size="5.8" fill="#3a3a3a" text-anchor="end">4</text>
<path d="M341.8 408.6V410.6" stroke="#333" stroke-width="0.6"/>
<text x="341.8" y="415.38" font-size="5.8" fill="#3a3a3a" text-anchor="middle">25</text>
<path d="M407.4 408.6V410.6" stroke="#333" stroke-width="0.6"/>
<text x="407.4" y="415.38" font-size="5.8" fill="#3a3a3a" text-anchor="middle">50</text>
<path d="M472.6 408.6V410.6" stroke="#333" stroke-width="0.6"/>
<text x="472.6" y="415.38" font-size="5.8" fill="#3a3a3a" text-anchor="middle">75</text>
<text x="288.5" y="426.8" font-size="8.8" fill="#000" stroke="#000" stroke-width="0.3" textLength="235.5" lengthAdjust="spacingAndGlyphs">Percent of total employment in service industry (male, 2018)</text>
<text x="470.0" y="248.4" font-size="5.2" font-weight="bold" fill="#1414e6" text-anchor="middle">ESP</text>
<text x="500.2" y="252.3" font-size="5.2" font-weight="bold" fill="#1414e6" text-anchor="middle">SGP</text>
<text x="484.7" y="256.9" font-size="5.2" font-weight="bold" fill="#1414e6" text-anchor="middle">USA</text>
<text x="453.9" y="257.4" font-size="5.2" font-weight="bold" fill="#1414e6" text-anchor="middle">ITA</text>
<text x="460.4" y="264.6" font-size="5.2" font-weight="bold" fill="#1414e6" text-anchor="middle">DEU</text>
<text x="475.1" y="263.1" font-size="5.2" font-weight="bold" fill="#1414e6" text-anchor="middle">FRA</text>
<text x="498.4" y="263.4" font-size="5.2" font-weight="bold" fill="#1414e6" text-anchor="middle">GBR</text>
<text x="406.8" y="272.3" font-size="5.2" font-weight="bold" fill="#1414e6" text-anchor="middle">IRN</text>
<text x="422.2" y="270.0" font-size="5.2" font-weight="bold" fill="#1414e6" text-anchor="middle">TUR</text>
<text x="447.9" y="278.8" font-size="5.2" font-weight="bold" fill="#1414e6" text-anchor="middle">RUS</text>
<text x="364.8" y="329.4" font-size="5.2" font-weight="bold" fill="#1414e6" text-anchor="middle">IND</text>
<text x="389.9" y="326.3" font-size="5.2" font-weight="bold" fill="#1414e6" text-anchor="middle">CHN</text>
<text x="348.4" y="357.9" font-size="5.2" font-weight="bold" fill="#1414e6" text-anchor="middle">SSD</text>
<text x="373.5" y="387.9" font-size="5.2" font-weight="bold" fill="#1414e6" text-anchor="middle">MRT</text>
<text x="362.5" y="406.1" font-size="5.2" font-weight="bold" fill="#1414e6" text-anchor="middle">PNG</text>
<text x="411.1" y="359.5" font-size="5.2" font-weight="bold" fill="#1414e6" text-anchor="middle">MNG</text>
<text x="441.1" y="365.2" font-size="5.2" font-weight="bold" fill="#1414e6" text-anchor="middle">NAM</text>
<ellipse cx="592.0" cy="265.7" rx="3.0" ry="2.45" fill="none" stroke="#000" stroke-width="1.0"/>
<ellipse cx="600.8" cy="269.7" rx="3.0" ry="2.45" fill="none" stroke="#000" stroke-width="1.0"/>
<ellipse cx="646.6" cy="246.8" rx="3.0" ry="2.45" fill="none" stroke="#000" stroke-width="1.0"/>
<ellipse cx="640.4" cy="258.4" rx="3.0" ry="2.45" fill="none" stroke="#000" stroke-width="1.0"/>
<ellipse cx="641.9" cy="262.3" rx="3.0" ry="2.45" fill="none" stroke="#000" stroke-width="1.0"/>
<ellipse cx="638.6" cy="268.4" rx="3.0" ry="2.45" fill="none" stroke="#000" stroke-width="1.0"/>
<ellipse cx="638.2" cy="274.3" rx="3.0" ry="2.45" fill="none" stroke="#000" stroke-width="1.0"/>
<ellipse cx="650.1" cy="270.8" rx="3.0" ry="2.45" fill="none" stroke="#000" stroke-width="1.0"/>
<ellipse cx="657.1" cy="273.8" rx="3.0" ry="2.45" fill="none" stroke="#000" stroke-width="1.0"/>
<ellipse cx="654.7" cy="253.8" rx="3.0" ry="2.45" fill="none" stroke="#000" stroke-width="1.0"/>
<ellipse cx="656.3" cy="260.7" rx="3.0" ry="2.45" fill="none" stroke="#000" stroke-width="1.0"/>
<ellipse cx="657.4" cy="265.7" rx="3.0" ry="2.45" fill="none" stroke="#000" stroke-width="1.0"/>
<ellipse cx="662.5" cy="251.8" rx="3.0" ry="2.45" fill="none" stroke="#000" stroke-width="1.0"/>
<ellipse cx="664.8" cy="243.8" rx="3.0" ry="2.45" fill="none" stroke="#000" stroke-width="1.0"/>
<ellipse cx="663.2" cy="265.0" rx="3.0" ry="2.45" fill="none" stroke="#000" stroke-width="1.0"/>
<ellipse cx="663.2" cy="280.0" rx="3.0" ry="2.45" fill="none" stroke="#000" stroke-width="1.0"/>
<ellipse cx="675.3" cy="236.1" rx="3.0" ry="2.45" fill="none" stroke="#000" stroke-width="1.0"/>
<ellipse cx="671.9" cy="248.4" rx="3.0" ry="2.45" fill="none" stroke="#000" stroke-width="1.0"/>
<ellipse cx="668.0" cy="249.2" rx="3.0" ry="2.45" fill="none" stroke="#000" stroke-width="1.0"/>
<ellipse cx="681.1" cy="248.4" rx="3.0" ry="2.45" fill="none" stroke="#000" stroke-width="1.0"/>
<ellipse cx="664.9" cy="252.7" rx="3.0" ry="2.45" fill="none" stroke="#000" stroke-width="1.0"/>
<ellipse cx="676.5" cy="253.0" rx="3.0" ry="2.45" fill="none" stroke="#000" stroke-width="1.0"/>
<ellipse cx="668.8" cy="255.8" rx="3.0" ry="2.45" fill="none" stroke="#000" stroke-width="1.0"/>
<ellipse cx="688.1" cy="258.4" rx="3.0" ry="2.45" fill="none" stroke="#000" stroke-width="1.0"/>
<ellipse cx="668.8" cy="260.7" rx="3.0" ry="2.45" fill="none" stroke="#000" stroke-width="1.0"/>
<ellipse cx="673.4" cy="261.5" rx="3.0" ry="2.45" fill="none" stroke="#000" stroke-width="1.0"/>
<ellipse cx="658.8" cy="261.5" rx="3.0" ry="2.45" fill="none" stroke="#000" stroke-width="1.0"/>
<ellipse cx="664.2" cy="263.0" rx="3.0" ry="2.45" fill="none" stroke="#000" stroke-width="1.0"/>
<ellipse cx="661.1" cy="265.4" rx="3.0" ry="2.45" fill="none" stroke="#000" stroke-width="1.0"/>
<ellipse cx="675.7" cy="266.9" rx="3.0" ry="2.45" fill="none" stroke="#000" stroke-width="1.0"/>
<ellipse cx="673.4" cy="269.2" rx="3.0" ry="2.45" fill="none" stroke="#000" stroke-width="1.0"/>
<ellipse cx="671.1" cy="272.3" rx="3.0" ry="2.45" fill="none" stroke="#000" stroke-width="1.0"/>
<ellipse cx="658.8" cy="273.8" rx="3.0" ry="2.45" fill="none" stroke="#000" stroke-width="1.0"/>
<ellipse cx="693.2" cy="268.8" rx="3.0" ry="2.45" fill="none" stroke="#000" stroke-width="1.0"/>
<ellipse cx="711.2" cy="265.0" rx="3.0" ry="2.45" fill="none" stroke="#000" stroke-width="1.0"/>
<ellipse cx="698.9" cy="271.2" rx="3.0" ry="2.45" fill="none" stroke="#000" stroke-width="1.0"/>
<ellipse cx="702.7" cy="273.8" rx="3.0" ry="2.45" fill="none" stroke="#000" stroke-width="1.0"/>
<ellipse cx="704.3" cy="274.6" rx="3.0" ry="2.45" fill="none" stroke="#000" stroke-width="1.0"/>
<ellipse cx="705.8" cy="276.2" rx="3.0" ry="2.45" fill="none" stroke="#000" stroke-width="1.0"/>
<ellipse cx="664.2" cy="279.5" rx="3.0" ry="2.45" fill="none" stroke="#000" stroke-width="1.0"/>
<ellipse cx="670.3" cy="279.5" rx="3.0" ry="2.45" fill="none" stroke="#000" stroke-width="1.0"/>
<ellipse cx="672.7" cy="280.5" rx="3.0" ry="2.45" fill="none" stroke="#000" stroke-width="1.0"/>
<ellipse cx="737.0" cy="239.9" rx="3.0" ry="2.45" fill="none" stroke="#000" stroke-width="1.0"/>
<ellipse cx="754.9" cy="251.8" rx="3.0" ry="2.45" fill="none" stroke="#000" stroke-width="1.0"/>
<ellipse cx="736.4" cy="257.3" rx="3.0" ry="2.45" fill="none" stroke="#000" stroke-width="1.0"/>
<ellipse cx="727.1" cy="263.5" rx="3.0" ry="2.45" fill="none" stroke="#000" stroke-width="1.0"/>
<ellipse cx="729.3" cy="263.8" rx="3.0" ry="2.45" fill="none" stroke="#000" stroke-width="1.0"/>
<ellipse cx="733.6" cy="266.9" rx="3.0" ry="2.45" fill="none" stroke="#000" stroke-width="1.0"/>
<ellipse cx="739.4" cy="265.4" rx="3.0" ry="2.45" fill="none" stroke="#000" stroke-width="1.0"/>
<ellipse cx="749.0" cy="264.1" rx="3.0" ry="2.45" fill="none" stroke="#000" stroke-width="1.0"/>
<ellipse cx="759.0" cy="268.4" rx="3.0" ry="2.45" fill="none" stroke="#000" stroke-width="1.0"/>
<ellipse cx="757.5" cy="272.3" rx="3.0" ry="2.45" fill="none" stroke="#000" stroke-width="1.0"/>
<ellipse cx="732.8" cy="273.8" rx="3.0" ry="2.45" fill="none" stroke="#000" stroke-width="1.0"/>
<ellipse cx="737.9" cy="276.9" rx="3.0" ry="2.45" fill="none" stroke="#000" stroke-width="1.0"/>
<ellipse cx="739.0" cy="280.5" rx="3.0" ry="2.45" fill="none" stroke="#000" stroke-width="1.0"/>
<ellipse cx="747.5" cy="280.0" rx="3.0" ry="2.45" fill="none" stroke="#000" stroke-width="1.0"/>
<ellipse cx="556.8" cy="304.5" rx="3.0" ry="2.45" fill="none" stroke="#000" stroke-width="1.0"/>
<ellipse cx="652.7" cy="288.0" rx="3.0" ry="2.45" fill="none" stroke="#000" stroke-width="1.0"/>
<ellipse cx="656.3" cy="286.5" rx="3.0" ry="2.45" fill="none" stroke="#000" stroke-width="1.0"/>
<ellipse cx="664.0" cy="290.0" rx="3.0" ry="2.45" fill="none" stroke="#000" stroke-width="1.0"/>
<ellipse cx="664.0" cy="293.4" rx="3.0" ry="2.45" fill="none" stroke="#000" stroke-width="1.0"/>
<ellipse cx="664.5" cy="298.8" rx="3.0" ry="2.45" fill="none" stroke="#000" stroke-width="1.0"/>
<ellipse cx="655.8" cy="298.4" rx="3.0" ry="2.45" fill="none" stroke="#000" stroke-width="1.0"/>
<ellipse cx="649.7" cy="308.5" rx="3.0" ry="2.45" fill="none" stroke="#000" stroke-width="1.0"/>
<ellipse cx="655.8" cy="308.1" rx="3.0" ry="2.45" fill="none" stroke="#000" stroke-width="1.0"/>
<ellipse cx="664.5" cy="312.2" rx="3.0" ry="2.45" fill="none" stroke="#000" stroke-width="1.0"/>
<ellipse cx="658.6" cy="325.8" rx="3.0" ry="2.45" fill="none" stroke="#000" stroke-width="1.0"/>
<ellipse cx="666.5" cy="283.4" rx="3.0" ry="2.45" fill="none" stroke="#000" stroke-width="1.0"/>
<ellipse cx="671.9" cy="284.9" rx="3.0" ry="2.45" fill="none" stroke="#000" stroke-width="1.0"/>
<ellipse cx="675.7" cy="286.9" rx="3.0" ry="2.45" fill="none" stroke="#000" stroke-width="1.0"/>
<ellipse cx="664.2" cy="291.1" rx="3.0" ry="2.45" fill="none" stroke="#000" stroke-width="1.0"/>
<ellipse cx="664.9" cy="295.0" rx="3.0" ry="2.45" fill="none" stroke="#000" stroke-width="1.0"/>
<ellipse cx="674.2" cy="294.7" rx="3.0" ry="2.45" fill="none" stroke="#000" stroke-width="1.0"/>
<ellipse cx="676.2" cy="296.8" rx="3.0" ry="2.45" fill="none" stroke="#000" stroke-width="1.0"/>
<ellipse cx="675.3" cy="298.8" rx="3.0" ry="2.45" fill="none" stroke="#000" stroke-width="1.0"/>
<ellipse cx="664.9" cy="299.6" rx="3.0" ry="2.45" fill="none" stroke="#000" stroke-width="1.0"/>
<ellipse cx="670.0" cy="302.7" rx="3.0" ry="2.45" fill="none" stroke="#000" stroke-width="1.0"/>
<ellipse cx="685.5" cy="299.6" rx="3.0" ry="2.45" fill="none" stroke="#000" stroke-width="1.0"/>
<ellipse cx="702.7" cy="300.8" rx="3.0" ry="2.45" fill="none" stroke="#000" stroke-width="1.0"/>
<ellipse cx="696.6" cy="307.3" rx="3.0" ry="2.45" fill="none" stroke="#000" stroke-width="1.0"/>
<ellipse cx="695.8" cy="312.7" rx="3.0" ry="2.45" fill="none" stroke="#000" stroke-width="1.0"/>
<ellipse cx="666.0" cy="312.2" rx="3.0" ry="2.45" fill="none" stroke="#000" stroke-width="1.0"/>
<ellipse cx="681.1" cy="313.8" rx="3.0" ry="2.45" fill="none" stroke="#000" stroke-width="1.0"/>
<ellipse cx="686.5" cy="322.0" rx="3.0" ry="2.45" fill="none" stroke="#000" stroke-width="1.0"/>
<ellipse cx="705.0" cy="318.4" rx="3.0" ry="2.45" fill="none" stroke="#000" stroke-width="1.0"/>
<ellipse cx="712.3" cy="310.1" rx="3.0" ry="2.45" fill="none" stroke="#000" stroke-width="1.0"/>
<ellipse cx="714.3" cy="311.6" rx="3.0" ry="2.45" fill="none" stroke="#000" stroke-width="1.0"/>
<ellipse cx="718.2" cy="311.6" rx="3.0" ry="2.45" fill="none" stroke="#000" stroke-width="1.0"/>
<ellipse cx="717.8" cy="317.8" rx="3.0" ry="2.45" fill="none" stroke="#000" stroke-width="1.0"/>
<ellipse cx="712.3" cy="323.0" rx="3.0" ry="2.45" fill="none" stroke="#000" stroke-width="1.0"/>
<ellipse cx="706.6" cy="327.7" rx="3.0" ry="2.45" fill="none" stroke="#000" stroke-width="1.0"/>
<ellipse cx="728.2" cy="290.0" rx="3.0" ry="2.45" fill="none" stroke="#000" stroke-width="1.0"/>
<ellipse cx="722.8" cy="298.8" rx="3.0" ry="2.45" fill="none" stroke="#000" stroke-width="1.0"/>
<ellipse cx="724.6" cy="303.9" rx="3.0" ry="2.45" fill="none" stroke="#000" stroke-width="1.0"/>
<ellipse cx="731.7" cy="302.4" rx="3.0" ry="2.45" fill="none" stroke="#000" stroke-width="1.0"/>
<ellipse cx="731.3" cy="307.0" rx="3.0" ry="2.45" fill="none" stroke="#000" stroke-width="1.0"/>
<ellipse cx="738.2" cy="297.7" rx="3.0" ry="2.45" fill="none" stroke="#000" stroke-width="1.0"/>
<ellipse cx="737.4" cy="301.9" rx="3.0" ry="2.45" fill="none" stroke="#000" stroke-width="1.0"/>
<ellipse cx="738.2" cy="309.6" rx="3.0" ry="2.45" fill="none" stroke="#000" stroke-width="1.0"/>
<ellipse cx="742.1" cy="303.5" rx="3.0" ry="2.45" fill="none" stroke="#000" stroke-width="1.0"/>
<ellipse cx="744.4" cy="306.5" rx="3.0" ry="2.45" fill="none" stroke="#000" stroke-width="1.0"/>
<ellipse cx="746.7" cy="296.2" rx="3.0" ry="2.45" fill="none" stroke="#000" stroke-width="1.0"/>
<ellipse cx="747.5" cy="297.7" rx="3.0" ry="2.45" fill="none" stroke="#000" stroke-width="1.0"/>
<ellipse cx="747.2" cy="299.6" rx="3.0" ry="2.45" fill="none" stroke="#000" stroke-width="1.0"/>
<ellipse cx="748.2" cy="305.0" rx="3.0" ry="2.45" fill="none" stroke="#000" stroke-width="1.0"/>
<ellipse cx="747.5" cy="308.9" rx="3.0" ry="2.45" fill="none" stroke="#000" stroke-width="1.0"/>
<ellipse cx="749.0" cy="311.2" rx="3.0" ry="2.45" fill="none" stroke="#000" stroke-width="1.0"/>
<ellipse cx="741.3" cy="315.8" rx="3.0" ry="2.45" fill="none" stroke="#000" stroke-width="1.0"/>
<ellipse cx="744.4" cy="316.6" rx="3.0" ry="2.45" fill="none" stroke="#000" stroke-width="1.0"/>
<ellipse cx="747.2" cy="317.3" rx="3.0" ry="2.45" fill="none" stroke="#000" stroke-width="1.0"/>
<ellipse cx="751.3" cy="316.6" rx="3.0" ry="2.45" fill="none" stroke="#000" stroke-width="1.0"/>
<ellipse cx="756.0" cy="307.3" rx="3.0" ry="2.45" fill="none" stroke="#000" stroke-width="1.0"/>
<ellipse cx="756.0" cy="293.1" rx="3.0" ry="2.45" fill="none" stroke="#000" stroke-width="1.0"/>
<ellipse cx="762.1" cy="310.4" rx="3.0" ry="2.45" fill="none" stroke="#000" stroke-width="1.0"/>
<ellipse cx="756.7" cy="315.0" rx="3.0" ry="2.45" fill="none" stroke="#000" stroke-width="1.0"/>
<ellipse cx="757.5" cy="312.2" rx="3.0" ry="2.45" fill="none" stroke="#000" stroke-width="1.0"/>
<ellipse cx="759.0" cy="323.5" rx="3.0" ry="2.45" fill="none" stroke="#000" stroke-width="1.0"/>
<ellipse cx="740.5" cy="324.6" rx="3.0" ry="2.45" fill="none" stroke="#000" stroke-width="1.0"/>
<ellipse cx="742.5" cy="327.1" rx="3.0" ry="2.45" fill="none" stroke="#000" stroke-width="1.0"/>
<ellipse cx="745.9" cy="327.1" rx="3.0" ry="2.45" fill="none" stroke="#000" stroke-width="1.0"/>
<ellipse cx="750.5" cy="328.1" rx="3.0" ry="2.45" fill="none" stroke="#000" stroke-width="1.0"/>
<ellipse cx="752.9" cy="330.4" rx="3.0" ry="2.45" fill="none" stroke="#000" stroke-width="1.0"/>
<ellipse cx="754.4" cy="332.8" rx="3.0" ry="2.45" fill="none" stroke="#000" stroke-width="1.0"/>
<ellipse cx="754.9" cy="334.8" rx="3.0" ry="2.45" fill="none" stroke="#000" stroke-width="1.0"/>
<ellipse cx="756.7" cy="336.3" rx="3.0" ry="2.45" fill="none" stroke="#000" stroke-width="1.0"/>
<ellipse cx="749.0" cy="330.4" rx="3.0" ry="2.45" fill="none" stroke="#000" stroke-width="1.0"/>
<ellipse cx="744.4" cy="331.2" rx="3.0" ry="2.45" fill="none" stroke="#000" stroke-width="1.0"/>
<ellipse cx="766.7" cy="334.3" rx="3.0" ry="2.45" fill="none" stroke="#000" stroke-width="1.0"/>
<ellipse cx="764.4" cy="339.7" rx="3.0" ry="2.45" fill="none" stroke="#000" stroke-width="1.0"/>
<ellipse cx="738.2" cy="280.3" rx="3.0" ry="2.45" fill="none" stroke="#000" stroke-width="1.0"/>
<ellipse cx="742.1" cy="283.4" rx="3.0" ry="2.45" fill="none" stroke="#000" stroke-width="1.0"/>
<ellipse cx="747.2" cy="280.3" rx="3.0" ry="2.45" fill="none" stroke="#000" stroke-width="1.0"/>
<ellipse cx="725.1" cy="342.0" rx="3.0" ry="2.45" fill="none" stroke="#000" stroke-width="1.0"/>
<ellipse cx="747.5" cy="342.8" rx="3.0" ry="2.45" fill="none" stroke="#000" stroke-width="1.0"/>
<ellipse cx="757.5" cy="342.5" rx="3.0" ry="2.45" fill="none" stroke="#000" stroke-width="1.0"/>
<ellipse cx="766.0" cy="342.8" rx="3.0" ry="2.45" fill="none" stroke="#000" stroke-width="1.0"/>
<ellipse cx="747.2" cy="343.9" rx="3.0" ry="2.45" fill="none" stroke="#000" stroke-width="1.0"/>
<ellipse cx="749.8" cy="345.9" rx="3.0" ry="2.45" fill="none" stroke="#000" stroke-width="1.0"/>
<ellipse cx="757.5" cy="344.6" rx="3.0" ry="2.45" fill="none" stroke="#000" stroke-width="1.0"/>
<ellipse cx="761.7" cy="343.4" rx="3.0" ry="2.45" fill="none" stroke="#000" stroke-width="1.0"/>
<ellipse cx="765.2" cy="342.8" rx="3.0" ry="2.45" fill="none" stroke="#000" stroke-width="1.0"/>
<ellipse cx="767.5" cy="351.1" rx="3.0" ry="2.45" fill="none" stroke="#000" stroke-width="1.0"/>
<ellipse cx="739.8" cy="348.0" rx="3.0" ry="2.45" fill="none" stroke="#000" stroke-width="1.0"/>
<ellipse cx="739.0" cy="350.0" rx="3.0" ry="2.45" fill="none" stroke="#000" stroke-width="1.0"/>
<ellipse cx="744.4" cy="348.5" rx="3.0" ry="2.45" fill="none" stroke="#000" stroke-width="1.0"/>
<ellipse cx="746.7" cy="350.0" rx="3.0" ry="2.45" fill="none" stroke="#000" stroke-width="1.0"/>
<ellipse cx="750.5" cy="351.6" rx="3.0" ry="2.45" fill="none" stroke="#000" stroke-width="1.0"/>
<ellipse cx="744.4" cy="354.7" rx="3.0" ry="2.45" fill="none" stroke="#000" stroke-width="1.0"/>
<ellipse cx="753.6" cy="354.7" rx="3.0" ry="2.45" fill="none" stroke="#000" stroke-width="1.0"/>
<ellipse cx="744.1" cy="357.0" rx="3.0" ry="2.45" fill="none" stroke="#000" stroke-width="1.0"/>
<ellipse cx="755.2" cy="359.7" rx="3.0" ry="2.45" fill="none" stroke="#000" stroke-width="1.0"/>
<ellipse cx="756.4" cy="362.4" rx="3.0" ry="2.45" fill="none" stroke="#000" stroke-width="1.0"/>
<ellipse cx="740.1" cy="359.3" rx="3.0" ry="2.45" fill="none" stroke="#000" stroke-width="1.0"/>
<ellipse cx="735.9" cy="364.7" rx="3.0" ry="2.45" fill="none" stroke="#000" stroke-width="1.0"/>
<ellipse cx="742.5" cy="364.7" rx="3.0" ry="2.45" fill="none" stroke="#000" stroke-width="1.0"/>
<ellipse cx="686.1" cy="353.9" rx="3.0" ry="2.45" fill="none" stroke="#000" stroke-width="1.0"/>
<ellipse cx="720.0" cy="357.7" rx="3.0" ry="2.45" fill="none" stroke="#000" stroke-width="1.0"/>
<ellipse cx="690.1" cy="372.1" rx="3.0" ry="2.45" fill="none" stroke="#000" stroke-width="1.0"/>
<ellipse cx="699.6" cy="379.3" rx="3.0" ry="2.45" fill="none" stroke="#000" stroke-width="1.0"/>
<ellipse cx="733.6" cy="377.8" rx="3.0" ry="2.45" fill="none" stroke="#000" stroke-width="1.0"/>
<ellipse cx="737.0" cy="375.5" rx="3.0" ry="2.45" fill="none" stroke="#000" stroke-width="1.0"/>
<ellipse cx="738.2" cy="380.4" rx="3.0" ry="2.45" fill="none" stroke="#000" stroke-width="1.0"/>
<ellipse cx="742.1" cy="379.3" rx="3.0" ry="2.45" fill="none" stroke="#000" stroke-width="1.0"/>
<ellipse cx="741.0" cy="381.3" rx="3.0" ry="2.45" fill="none" stroke="#000" stroke-width="1.0"/>
<ellipse cx="746.2" cy="380.9" rx="3.0" ry="2.45" fill="none" stroke="#000" stroke-width="1.0"/>
<ellipse cx="748.7" cy="377.8" rx="3.0" ry="2.45" fill="none" stroke="#000" stroke-width="1.0"/>
<ellipse cx="746.7" cy="384.0" rx="3.0" ry="2.45" fill="none" stroke="#000" stroke-width="1.0"/>
<ellipse cx="728.6" cy="388.6" rx="3.0" ry="2.45" fill="none" stroke="#000" stroke-width="1.0"/>
<ellipse cx="737.0" cy="391.2" rx="3.0" ry="2.45" fill="none" stroke="#000" stroke-width="1.0"/>
<ellipse cx="745.2" cy="398.6" rx="3.0" ry="2.45" fill="none" stroke="#000" stroke-width="1.0"/>
<ellipse cx="630.1" cy="352.0" rx="3.0" ry="2.45" fill="none" stroke="#000" stroke-width="1.0"/>
<ellipse cx="746.3" cy="296.6" rx="3.0" ry="2.45" fill="none" stroke="#000" stroke-width="1.0"/>
<ellipse cx="747.0" cy="297.4" rx="3.0" ry="2.45" fill="none" stroke="#000" stroke-width="1.0"/>
<ellipse cx="746.0" cy="297.9" rx="3.0" ry="2.45" fill="none" stroke="#000" stroke-width="1.0"/>
<ellipse cx="747.6" cy="296.0" rx="3.0" ry="2.45" fill="none" stroke="#000" stroke-width="1.0"/>
<ellipse cx="753.6" cy="331.6" rx="3.0" ry="2.45" fill="none" stroke="#000" stroke-width="1.0"/>
<ellipse cx="754.2" cy="332.6" rx="3.0" ry="2.45" fill="none" stroke="#000" stroke-width="1.0"/>
<ellipse cx="753.2" cy="333.2" rx="3.0" ry="2.45" fill="none" stroke="#000" stroke-width="1.0"/>
<ellipse cx="755.0" cy="331.8" rx="3.0" ry="2.45" fill="none" stroke="#000" stroke-width="1.0"/>
<ellipse cx="747.4" cy="308.3" rx="3.0" ry="2.45" fill="none" stroke="#000" stroke-width="1.0"/>
<ellipse cx="746.8" cy="307.5" rx="3.0" ry="2.45" fill="none" stroke="#000" stroke-width="1.0"/>
<ellipse cx="743.5" cy="316.0" rx="3.0" ry="2.45" fill="none" stroke="#000" stroke-width="1.0"/>
<path d="M557.1 237.3L767.5 331.2" stroke="#000" stroke-width="1.9" stroke-linecap="butt"/>
<text x="558" y="231" font-size="8.4" fill="#000" stroke="#000" stroke-width="0.15" textLength="71.0" lengthAdjust="spacingAndGlyphs"><tspan font-style="italic">y</tspan> = 2.95 − 0.0413 <tspan font-style="italic">x</tspan></text>
<text x="574.5" y="242.5" font-size="8.4" fill="#000" stroke="#000" stroke-width="0.15" textLength="88.9" lengthAdjust="spacingAndGlyphs" xml:space="preserve"><tspan font-style="italic">R</tspan><tspan font-size="5.5" dy="-3.6">2</tspan><tspan dy="3.6"> = 0.25    </tspan><tspan font-style="italic">p</tspan> = 1.6e−12</text>
<path d="M546.4 216.4V407.3H773.8" fill="none" stroke="#000" stroke-width="1.6"/>
<path d="M544.4 396.8H546.4" stroke="#333" stroke-width="0.6"/>
<text x="543.1999999999999" y="398.88" font-size="5.8" fill="#3a3a3a" text-anchor="end">0</text>
<path d="M544.4 356.7H546.4" stroke="#333" stroke-width="0.6"/>
<text x="543.1999999999999" y="358.78" font-size="5.8" fill="#3a3a3a" text-anchor="end">1</text>
<path d="M544.4 316.6H546.4" stroke="#333" stroke-width="0.6"/>
<text x="543.1999999999999" y="318.68" font-size="5.8" fill="#3a3a3a" text-anchor="end">2</text>
<path d="M544.4 276.5H546.4" stroke="#333" stroke-width="0.6"/>
<text x="543.1999999999999" y="278.58" font-size="5.8" fill="#3a3a3a" text-anchor="end">3</text>
<path d="M544.4 236.4H546.4" stroke="#333" stroke-width="0.6"/>
<text x="543.1999999999999" y="238.48" font-size="5.8" fill="#3a3a3a" text-anchor="end">4</text>
<path d="M574.6 407.3V409.3" stroke="#333" stroke-width="0.6"/>
<text x="574.6" y="414.08" font-size="5.8" fill="#3a3a3a" text-anchor="middle">−20</text>
<path d="M611.5 407.3V409.3" stroke="#333" stroke-width="0.6"/>
<text x="611.5" y="414.08" font-size="5.8" fill="#3a3a3a" text-anchor="middle">−10</text>
<path d="M648.5 407.3V409.3" stroke="#333" stroke-width="0.6"/>
<text x="648.5" y="414.08" font-size="5.8" fill="#3a3a3a" text-anchor="middle">0</text>
<path d="M685.5 407.3V409.3" stroke="#333" stroke-width="0.6"/>
<text x="685.5" y="414.08" font-size="5.8" fill="#3a3a3a" text-anchor="middle">10</text>
<path d="M722.4 407.3V409.3" stroke="#333" stroke-width="0.6"/>
<text x="722.4" y="414.08" font-size="5.8" fill="#3a3a3a" text-anchor="middle">20</text>
<path d="M759.4 407.3V409.3" stroke="#333" stroke-width="0.6"/>
<text x="759.4" y="414.08" font-size="5.8" fill="#3a3a3a" text-anchor="middle">30</text>
<text x="583.3" y="424.6" font-size="8.8" fill="#000" stroke="#000" stroke-width="0.3" textLength="145.5" lengthAdjust="spacingAndGlyphs">Temperature in March (Celsius, 2016)</text>
<text x="658.2" y="250.6" font-size="5.2" font-weight="bold" fill="#1414e6" text-anchor="middle">USA</text>
<text x="662.5" y="258.8" font-size="5.2" font-weight="bold" fill="#1414e6" text-anchor="middle">GBR</text>
<text x="596.5" y="275.3" font-size="5.2" font-weight="bold" fill="#1414e6" text-anchor="middle">RUS</text>
<text x="678.3" y="246.0" font-size="5.2" font-weight="bold" fill="#1414e6" text-anchor="middle">ESP</text>
<text x="685.9" y="253.1" font-size="5.2" font-weight="bold" fill="#1414e6" text-anchor="middle">ITA</text>
<text x="677.3" y="259.2" font-size="5.2" font-weight="bold" fill="#1414e6" text-anchor="middle">MCO</text>
<text x="684.2" y="265.7" font-size="5.2" font-weight="bold" fill="#1414e6" text-anchor="middle">FRA</text>
<text x="669.5" y="268.5" font-size="5.2" font-weight="bold" fill="#1414e6" text-anchor="middle">DEU</text>
<text x="681.6" y="275.3" font-size="5.2" font-weight="bold" fill="#1414e6" text-anchor="middle">TUR</text>
<text x="702.9" y="270.3" font-size="5.2" font-weight="bold" fill="#1414e6" text-anchor="middle">IRN</text>
<text x="758.8" y="250.3" font-size="5.2" font-weight="bold" fill="#1414e6" text-anchor="middle">SGP</text>
<text x="561.2" y="303.3" font-size="5.2" font-weight="bold" fill="#1414e6" text-anchor="middle">GRL</text>
<text x="663.0" y="324.3" font-size="5.2" font-weight="bold" fill="#1414e6" text-anchor="middle">CHN</text>
<text x="738.4" y="333.9" font-size="5.2" font-weight="bold" fill="#1414e6" text-anchor="middle">IND</text>
<text x="770.6" y="349.3" font-size="5.2" font-weight="bold" fill="#1414e6" text-anchor="middle">SSD</text>
<text x="732.0" y="363.2" font-size="5.2" font-weight="bold" fill="#1414e6" text-anchor="middle">NAM</text>
<text x="742.1" y="390.0" font-size="5.2" font-weight="bold" fill="#1414e6" text-anchor="middle">MRT</text>
<text x="740.9" y="404.4" font-size="5.2" font-weight="bold" fill="#1414e6" text-anchor="middle">PNG</text>
<text x="625.7" y="357.3" font-size="5.2" font-weight="bold" fill="#1414e6" text-anchor="middle">MNG</text>
<text transform="translate(8.9,366.4) rotate(-90)" font-size="12.2" fill="#000" stroke="#000" stroke-width="0.3" textLength="310" lengthAdjust="spacingAndGlyphs">Log (Total COVID-19 cases per million population (May 2020))</text>
</svg></body></html>
